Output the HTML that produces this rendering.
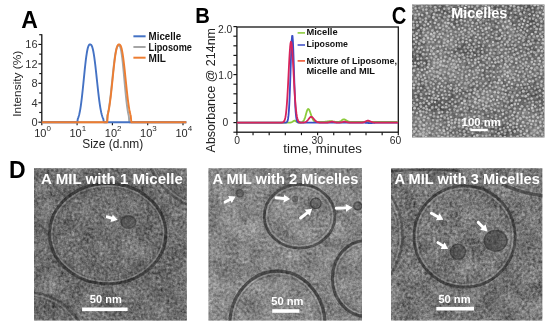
<!DOCTYPE html>
<html><head><meta charset="utf-8"><title>Figure</title>
<style>
html,body{margin:0;padding:0;background:#fff;}
body{width:550px;height:327px;overflow:hidden;}
svg{display:block;font-family:"Liberation Sans", Arial, sans-serif;}
</style></head><body>
<svg width="550" height="327" viewBox="0 0 550 327">
<defs>
<filter id="nz0" x="0" y="0" width="100%" height="100%" color-interpolation-filters="sRGB"><feTurbulence type="fractalNoise" baseFrequency="0.36" numOctaves="3" seed="3"/><feGaussianBlur stdDeviation="0.55"/><feColorMatrix type="matrix" values="0.62 0 0 0 0.125  0.62 0 0 0 0.125  0.62 0 0 0 0.125  0 0 0 0 1" result="f"/><feTurbulence type="fractalNoise" baseFrequency="0.05" numOctaves="2" seed="23"/><feColorMatrix type="matrix" values="0.35 0 0 0 0.325  0.35 0 0 0 0.325  0.35 0 0 0 0.325  0 0 0 0 1" result="c"/><feComposite in="f" in2="c" operator="arithmetic" k1="0" k2="1" k3="1" k4="-0.5"/></filter><filter id="nzo0" x="0" y="0" width="100%" height="100%" color-interpolation-filters="sRGB"><feTurbulence type="fractalNoise" baseFrequency="0.36" numOctaves="3" seed="53"/><feGaussianBlur stdDeviation="0.55"/><feColorMatrix type="matrix" values="0.62 0 0 0 0.125  0.62 0 0 0 0.125  0.62 0 0 0 0.125  0 0 0 0 1" result="f"/><feTurbulence type="fractalNoise" baseFrequency="0.05" numOctaves="2" seed="73"/><feColorMatrix type="matrix" values="0.35 0 0 0 0.325  0.35 0 0 0 0.325  0.35 0 0 0 0.325  0 0 0 0 1" result="c"/><feComposite in="f" in2="c" operator="arithmetic" k1="0" k2="1" k3="1" k4="-0.5"/></filter>
<filter id="nz1" x="0" y="0" width="100%" height="100%" color-interpolation-filters="sRGB"><feTurbulence type="fractalNoise" baseFrequency="0.36" numOctaves="3" seed="5"/><feGaussianBlur stdDeviation="0.55"/><feColorMatrix type="matrix" values="0.56 0 0 0 0.245  0.56 0 0 0 0.245  0.56 0 0 0 0.245  0 0 0 0 1" result="f"/><feTurbulence type="fractalNoise" baseFrequency="0.05" numOctaves="2" seed="25"/><feColorMatrix type="matrix" values="0.35 0 0 0 0.325  0.35 0 0 0 0.325  0.35 0 0 0 0.325  0 0 0 0 1" result="c"/><feComposite in="f" in2="c" operator="arithmetic" k1="0" k2="1" k3="1" k4="-0.5"/></filter><filter id="nzo1" x="0" y="0" width="100%" height="100%" color-interpolation-filters="sRGB"><feTurbulence type="fractalNoise" baseFrequency="0.36" numOctaves="3" seed="55"/><feGaussianBlur stdDeviation="0.55"/><feColorMatrix type="matrix" values="0.56 0 0 0 0.245  0.56 0 0 0 0.245  0.56 0 0 0 0.245  0 0 0 0 1" result="f"/><feTurbulence type="fractalNoise" baseFrequency="0.05" numOctaves="2" seed="75"/><feColorMatrix type="matrix" values="0.35 0 0 0 0.325  0.35 0 0 0 0.325  0.35 0 0 0 0.325  0 0 0 0 1" result="c"/><feComposite in="f" in2="c" operator="arithmetic" k1="0" k2="1" k3="1" k4="-0.5"/></filter>
<filter id="nz2" x="0" y="0" width="100%" height="100%" color-interpolation-filters="sRGB"><feTurbulence type="fractalNoise" baseFrequency="0.36" numOctaves="3" seed="9"/><feGaussianBlur stdDeviation="0.55"/><feColorMatrix type="matrix" values="0.66 0 0 0 0.135  0.66 0 0 0 0.135  0.66 0 0 0 0.135  0 0 0 0 1" result="f"/><feTurbulence type="fractalNoise" baseFrequency="0.05" numOctaves="2" seed="29"/><feColorMatrix type="matrix" values="0.35 0 0 0 0.325  0.35 0 0 0 0.325  0.35 0 0 0 0.325  0 0 0 0 1" result="c"/><feComposite in="f" in2="c" operator="arithmetic" k1="0" k2="1" k3="1" k4="-0.5"/></filter><filter id="nzo2" x="0" y="0" width="100%" height="100%" color-interpolation-filters="sRGB"><feTurbulence type="fractalNoise" baseFrequency="0.36" numOctaves="3" seed="59"/><feGaussianBlur stdDeviation="0.55"/><feColorMatrix type="matrix" values="0.66 0 0 0 0.135  0.66 0 0 0 0.135  0.66 0 0 0 0.135  0 0 0 0 1" result="f"/><feTurbulence type="fractalNoise" baseFrequency="0.05" numOctaves="2" seed="79"/><feColorMatrix type="matrix" values="0.35 0 0 0 0.325  0.35 0 0 0 0.325  0.35 0 0 0 0.325  0 0 0 0 1" result="c"/><feComposite in="f" in2="c" operator="arithmetic" k1="0" k2="1" k3="1" k4="-0.5"/></filter>
<filter id="nzC" x="0" y="0" width="100%" height="100%" color-interpolation-filters="sRGB"><feTurbulence type="fractalNoise" baseFrequency="0.35" numOctaves="2" seed="11"/><feColorMatrix type="matrix" values="0.35 0 0 0 0.26  0.35 0 0 0 0.26  0.35 0 0 0 0.26  0 0 0 0 1" result="f"/><feTurbulence type="fractalNoise" baseFrequency="0.035" numOctaves="2" seed="41"/><feColorMatrix type="matrix" values="0.3 0 0 0 0.35  0.3 0 0 0 0.35  0.3 0 0 0 0.35  0 0 0 0 1" result="c"/><feComposite in="f" in2="c" operator="arithmetic" k1="0" k2="1" k3="1" k4="-0.5"/></filter>
<filter id="bl" x="-5%" y="-5%" width="110%" height="110%"><feGaussianBlur stdDeviation="0.5"/></filter>
<filter id="bl2" x="-5%" y="-5%" width="110%" height="110%"><feGaussianBlur stdDeviation="0.75"/></filter>
</defs>
<rect width="550" height="327" fill="#fff"/>
<text x="21.2" y="28.1" font-size="23" font-weight="bold">A</text>
<line x1="41.8" y1="34.3" x2="41.8" y2="122.8" stroke="#151515" stroke-width="1.3"/>
<line x1="38.4" y1="122.20" x2="41.8" y2="122.20" stroke="#151515" stroke-width="1.15"/>
<text x="37.6" y="126.10" font-size="11" text-anchor="end" fill="#333">0</text>
<line x1="39.199999999999996" y1="112.48" x2="41.8" y2="112.48" stroke="#151515" stroke-width="1.15"/>
<line x1="38.4" y1="102.76" x2="41.8" y2="102.76" stroke="#151515" stroke-width="1.15"/>
<text x="37.6" y="106.66" font-size="11" text-anchor="end" fill="#333">4</text>
<line x1="39.199999999999996" y1="93.04" x2="41.8" y2="93.04" stroke="#151515" stroke-width="1.15"/>
<line x1="38.4" y1="83.32" x2="41.8" y2="83.32" stroke="#151515" stroke-width="1.15"/>
<text x="37.6" y="87.22" font-size="11" text-anchor="end" fill="#333">8</text>
<line x1="39.199999999999996" y1="73.60" x2="41.8" y2="73.60" stroke="#151515" stroke-width="1.15"/>
<line x1="38.4" y1="63.88" x2="41.8" y2="63.88" stroke="#151515" stroke-width="1.15"/>
<text x="37.6" y="67.78" font-size="11" text-anchor="end" fill="#333">12</text>
<line x1="39.199999999999996" y1="54.16" x2="41.8" y2="54.16" stroke="#151515" stroke-width="1.15"/>
<line x1="38.4" y1="44.44" x2="41.8" y2="44.44" stroke="#151515" stroke-width="1.15"/>
<text x="37.6" y="48.34" font-size="11" text-anchor="end" fill="#333">16</text>
<line x1="39.199999999999996" y1="34.72" x2="41.8" y2="34.72" stroke="#151515" stroke-width="1.15"/>
<line x1="41.80" y1="122.2" x2="41.80" y2="125.2" stroke="#151515" stroke-width="1.15"/>
<text x="34.20" y="137" font-size="11" fill="#2a2a2a">10<tspan dy="-6" font-size="8">0</tspan></text>
<line x1="77.10" y1="122.2" x2="77.10" y2="125.2" stroke="#151515" stroke-width="1.15"/>
<text x="69.50" y="137" font-size="11" fill="#2a2a2a">10<tspan dy="-6" font-size="8">1</tspan></text>
<line x1="112.40" y1="122.2" x2="112.40" y2="125.2" stroke="#151515" stroke-width="1.15"/>
<text x="104.80" y="137" font-size="11" fill="#2a2a2a">10<tspan dy="-6" font-size="8">2</tspan></text>
<line x1="147.70" y1="122.2" x2="147.70" y2="125.2" stroke="#151515" stroke-width="1.15"/>
<text x="140.10" y="137" font-size="11" fill="#2a2a2a">10<tspan dy="-6" font-size="8">3</tspan></text>
<line x1="183.00" y1="122.2" x2="183.00" y2="125.2" stroke="#151515" stroke-width="1.15"/>
<text x="175.40" y="137" font-size="11" fill="#2a2a2a">10<tspan dy="-6" font-size="8">4</tspan></text>
<text x="82.2" y="147.9" font-size="12.4" fill="#222" textLength="61" lengthAdjust="spacingAndGlyphs">Size (d.nm)</text>
<text transform="translate(21.0,116.7) rotate(-90)" font-size="11.8" fill="#222" textLength="66" lengthAdjust="spacingAndGlyphs">Intensity (%)</text>
<path d="M41.80,122.20 L42.30,122.20 L42.80,122.20 L43.30,122.20 L43.80,122.20 L44.30,122.20 L44.80,122.20 L45.30,122.20 L45.80,122.20 L46.30,122.20 L46.80,122.20 L47.30,122.20 L47.80,122.20 L48.30,122.20 L48.80,122.20 L49.30,122.20 L49.80,122.20 L50.30,122.20 L50.80,122.20 L51.30,122.20 L51.80,122.20 L52.30,122.20 L52.80,122.20 L53.30,122.20 L53.80,122.20 L54.30,122.20 L54.80,122.20 L55.30,122.20 L55.80,122.20 L56.30,122.20 L56.80,122.20 L57.30,122.20 L57.80,122.20 L58.30,122.20 L58.80,122.20 L59.30,122.20 L59.80,122.20 L60.30,122.20 L60.80,122.20 L61.30,122.20 L61.80,122.20 L62.30,122.20 L62.80,122.20 L63.30,122.20 L63.80,122.20 L64.30,122.20 L64.80,122.20 L65.30,122.20 L65.80,122.20 L66.30,122.20 L66.80,122.20 L67.30,122.20 L67.80,122.20 L68.30,122.20 L68.80,122.20 L69.30,122.20 L69.80,122.20 L70.30,122.20 L70.80,122.20 L71.30,122.20 L71.80,122.20 L72.30,122.20 L72.80,122.20 L73.30,122.20 L73.80,122.20 L74.30,122.20 L74.80,122.20 L75.30,122.20 L75.80,122.20 L76.30,122.20 L76.80,122.20 L77.30,122.20 L77.80,122.20 L78.30,122.20 L78.80,122.20 L79.30,122.20 L79.80,122.20 L80.30,122.20 L80.80,122.20 L81.30,122.20 L81.80,122.20 L82.30,122.20 L82.80,122.20 L83.30,122.20 L83.80,122.20 L84.30,122.20 L84.80,122.20 L85.30,122.20 L85.80,122.20 L86.30,122.20 L86.80,122.20 L87.30,122.20 L87.80,122.20 L88.30,122.20 L88.80,122.20 L89.30,122.20 L89.80,122.20 L90.30,122.20 L90.80,122.20 L91.30,122.20 L91.80,122.20 L92.30,122.20 L92.80,122.20 L93.30,122.20 L93.80,122.20 L94.30,122.20 L94.80,122.20 L95.30,122.20 L95.80,122.20 L96.30,122.20 L96.80,122.20 L97.30,122.20 L97.80,122.20 L98.30,122.20 L98.80,122.20 L99.30,122.20 L99.80,122.20 L100.30,122.20 L100.80,122.20 L101.30,122.20 L101.80,122.20 L102.30,122.20 L102.80,122.20 L103.30,122.20 L103.80,122.20 L104.30,122.20 L104.80,122.20 L105.30,122.20 L105.80,122.20 L106.30,122.20 L106.80,122.20 L107.30,115.82 L107.80,113.89 L108.30,111.57 L108.80,108.84 L109.30,105.67 L109.80,102.09 L110.30,98.12 L110.80,93.80 L111.30,89.20 L111.80,84.41 L112.30,79.53 L112.80,74.66 L113.30,69.91 L113.80,65.39 L114.30,61.21 L114.80,57.44 L115.30,54.15 L115.80,51.40 L116.30,49.20 L116.80,47.55 L117.30,46.42 L117.80,45.75 L118.30,45.46 L118.80,45.41 L119.30,45.58 L119.80,46.16 L120.30,47.31 L120.80,49.11 L121.30,51.62 L121.80,54.83 L122.30,58.71 L122.80,63.18 L123.30,68.14 L123.80,73.44 L124.30,78.94 L124.80,84.47 L125.30,89.88 L125.80,95.02 L126.30,99.78 L126.80,104.07 L127.30,107.85 L127.80,111.07 L128.30,113.76 L128.80,115.94 L129.30,122.20 L129.80,122.20 L130.30,122.20 L130.80,122.20 L131.30,122.20 L131.80,122.20 L132.30,122.20 L132.80,122.20 L133.30,122.20 L133.80,122.20 L134.30,122.20 L134.80,122.20 L135.30,122.20 L135.80,122.20 L136.30,122.20 L136.80,122.20 L137.30,122.20 L137.80,122.20 L138.30,122.20 L138.80,122.20 L139.30,122.20 L139.80,122.20 L140.30,122.20 L140.80,122.20 L141.30,122.20 L141.80,122.20 L142.30,122.20 L142.80,122.20 L143.30,122.20 L143.80,122.20 L144.30,122.20 L144.80,122.20 L145.30,122.20 L145.80,122.20 L146.30,122.20 L146.80,122.20 L147.30,122.20 L147.80,122.20 L148.30,122.20 L148.80,122.20 L149.30,122.20 L149.80,122.20 L150.30,122.20 L150.80,122.20 L151.30,122.20 L151.80,122.20 L152.30,122.20 L152.80,122.20 L153.30,122.20 L153.80,122.20 L154.30,122.20 L154.80,122.20 L155.30,122.20 L155.80,122.20 L156.30,122.20 L156.80,122.20 L157.30,122.20 L157.80,122.20 L158.30,122.20 L158.80,122.20 L159.30,122.20 L159.80,122.20 L160.30,122.20 L160.80,122.20 L161.30,122.20 L161.80,122.20 L162.30,122.20 L162.80,122.20 L163.30,122.20 L163.80,122.20 L164.30,122.20 L164.80,122.20 L165.30,122.20 L165.80,122.20 L166.30,122.20 L166.80,122.20 L167.30,122.20 L167.80,122.20 L168.30,122.20 L168.80,122.20 L169.30,122.20 L169.80,122.20 L170.30,122.20 L170.80,122.20 L171.30,122.20 L171.80,122.20 L172.30,122.20 L172.80,122.20 L173.30,122.20 L173.80,122.20 L174.30,122.20 L174.80,122.20 L175.30,122.20 L175.80,122.20 L176.30,122.20 L176.80,122.20 L177.30,122.20 L177.80,122.20 L178.30,122.20 L178.80,122.20 L179.30,122.20 L179.80,122.20 L180.30,122.20 L180.80,122.20 L181.30,122.20 L181.80,122.20 L182.30,122.20 L182.80,122.20 L183.30,122.20 L183.80,122.20 L184.30,122.20 L184.80,122.20 L185.30,122.20 L185.80,122.20 L186.30,122.20" fill="none" stroke="#A5A5A5" stroke-width="1.9" stroke-linejoin="round"/>
<path d="M41.80,122.20 L42.30,122.20 L42.80,122.20 L43.30,122.20 L43.80,122.20 L44.30,122.20 L44.80,122.20 L45.30,122.20 L45.80,122.20 L46.30,122.20 L46.80,122.20 L47.30,122.20 L47.80,122.20 L48.30,122.20 L48.80,122.20 L49.30,122.20 L49.80,122.20 L50.30,122.20 L50.80,122.20 L51.30,122.20 L51.80,122.20 L52.30,122.20 L52.80,122.20 L53.30,122.20 L53.80,122.20 L54.30,122.20 L54.80,122.20 L55.30,122.20 L55.80,122.20 L56.30,122.20 L56.80,122.20 L57.30,122.20 L57.80,122.20 L58.30,122.20 L58.80,122.20 L59.30,122.20 L59.80,122.20 L60.30,122.20 L60.80,122.20 L61.30,122.20 L61.80,122.20 L62.30,122.20 L62.80,122.20 L63.30,122.20 L63.80,122.20 L64.30,122.20 L64.80,122.20 L65.30,122.20 L65.80,122.20 L66.30,122.20 L66.80,122.20 L67.30,122.20 L67.80,122.20 L68.30,122.20 L68.80,122.20 L69.30,122.20 L69.80,122.20 L70.30,122.20 L70.80,122.20 L71.30,122.20 L71.80,122.20 L72.30,122.20 L72.80,122.20 L73.30,122.20 L73.80,122.20 L74.30,122.20 L74.80,122.20 L75.30,122.20 L75.80,122.20 L76.30,122.20 L76.80,122.20 L77.30,122.20 L77.80,118.83 L78.30,117.60 L78.80,116.06 L79.30,114.14 L79.80,111.82 L80.30,109.06 L80.80,105.86 L81.30,102.21 L81.80,98.15 L82.30,93.73 L82.80,89.01 L83.30,84.09 L83.80,79.06 L84.30,74.04 L84.80,69.15 L85.30,64.51 L85.80,60.21 L86.30,56.36 L86.80,53.02 L87.30,50.24 L87.80,48.04 L88.30,46.41 L88.80,45.32 L89.30,44.70 L89.80,44.46 L90.30,44.45 L90.80,44.60 L91.30,45.05 L91.80,45.90 L92.30,47.19 L92.80,48.98 L93.30,51.27 L93.80,54.07 L94.30,57.34 L94.80,61.05 L95.30,65.14 L95.80,69.52 L96.30,74.10 L96.80,78.80 L97.30,83.51 L97.80,88.15 L98.30,92.62 L98.80,96.84 L99.30,100.76 L99.80,104.33 L100.30,107.53 L100.80,110.33 L101.30,112.74 L101.80,114.78 L102.30,116.48 L102.80,117.86 L103.30,118.96 L103.80,122.20 L104.30,122.20 L104.80,122.20 L105.30,122.20 L105.80,122.20 L106.30,122.20 L106.80,122.20 L107.30,122.20 L107.80,122.20 L108.30,122.20 L108.80,122.20 L109.30,122.20 L109.80,122.20 L110.30,122.20 L110.80,122.20 L111.30,122.20 L111.80,122.20 L112.30,122.20 L112.80,122.20 L113.30,122.20 L113.80,122.20 L114.30,122.20 L114.80,122.20 L115.30,122.20 L115.80,122.20 L116.30,122.20 L116.80,122.20 L117.30,122.20 L117.80,122.20 L118.30,122.20 L118.80,122.20 L119.30,122.20 L119.80,122.20 L120.30,122.20 L120.80,122.20 L121.30,122.20 L121.80,122.20 L122.30,122.20 L122.80,122.20 L123.30,122.20 L123.80,122.20 L124.30,122.20 L124.80,122.20 L125.30,122.20 L125.80,122.20 L126.30,122.20 L126.80,122.20 L127.30,122.20 L127.80,122.20 L128.30,122.20 L128.80,122.20 L129.30,122.20 L129.80,122.20 L130.30,122.20 L130.80,122.20 L131.30,122.20 L131.80,122.20 L132.30,122.20 L132.80,122.20 L133.30,122.20 L133.80,122.20 L134.30,122.20 L134.80,122.20 L135.30,122.20 L135.80,122.20 L136.30,122.20 L136.80,122.20 L137.30,122.20 L137.80,122.20 L138.30,122.20 L138.80,122.20 L139.30,122.20 L139.80,122.20 L140.30,122.20 L140.80,122.20 L141.30,122.20 L141.80,122.20 L142.30,122.20 L142.80,122.20 L143.30,122.20 L143.80,122.20 L144.30,122.20 L144.80,122.20 L145.30,122.20 L145.80,122.20 L146.30,122.20 L146.80,122.20 L147.30,122.20 L147.80,122.20 L148.30,122.20 L148.80,122.20 L149.30,122.20 L149.80,122.20 L150.30,122.20 L150.80,122.20 L151.30,122.20 L151.80,122.20 L152.30,122.20 L152.80,122.20 L153.30,122.20 L153.80,122.20 L154.30,122.20 L154.80,122.20 L155.30,122.20 L155.80,122.20 L156.30,122.20 L156.80,122.20 L157.30,122.20 L157.80,122.20 L158.30,122.20 L158.80,122.20 L159.30,122.20 L159.80,122.20 L160.30,122.20 L160.80,122.20 L161.30,122.20 L161.80,122.20 L162.30,122.20 L162.80,122.20 L163.30,122.20 L163.80,122.20 L164.30,122.20 L164.80,122.20 L165.30,122.20 L165.80,122.20 L166.30,122.20 L166.80,122.20 L167.30,122.20 L167.80,122.20 L168.30,122.20 L168.80,122.20 L169.30,122.20 L169.80,122.20 L170.30,122.20 L170.80,122.20 L171.30,122.20 L171.80,122.20 L172.30,122.20 L172.80,122.20 L173.30,122.20 L173.80,122.20 L174.30,122.20 L174.80,122.20 L175.30,122.20 L175.80,122.20 L176.30,122.20 L176.80,122.20 L177.30,122.20 L177.80,122.20 L178.30,122.20 L178.80,122.20 L179.30,122.20 L179.80,122.20 L180.30,122.20 L180.80,122.20 L181.30,122.20 L181.80,122.20 L182.30,122.20 L182.80,122.20 L183.30,122.20 L183.80,122.20 L184.30,122.20 L184.80,122.20 L185.30,122.20 L185.80,122.20 L186.30,122.20" fill="none" stroke="#4472C4" stroke-width="1.9" stroke-linejoin="round"/>
<path d="M41.80,122.20 L42.30,122.20 L42.80,122.20 L43.30,122.20 L43.80,122.20 L44.30,122.20 L44.80,122.20 L45.30,122.20 L45.80,122.20 L46.30,122.20 L46.80,122.20 L47.30,122.20 L47.80,122.20 L48.30,122.20 L48.80,122.20 L49.30,122.20 L49.80,122.20 L50.30,122.20 L50.80,122.20 L51.30,122.20 L51.80,122.20 L52.30,122.20 L52.80,122.20 L53.30,122.20 L53.80,122.20 L54.30,122.20 L54.80,122.20 L55.30,122.20 L55.80,122.20 L56.30,122.20 L56.80,122.20 L57.30,122.20 L57.80,122.20 L58.30,122.20 L58.80,122.20 L59.30,122.20 L59.80,122.20 L60.30,122.20 L60.80,122.20 L61.30,122.20 L61.80,122.20 L62.30,122.20 L62.80,122.20 L63.30,122.20 L63.80,122.20 L64.30,122.20 L64.80,122.20 L65.30,122.20 L65.80,122.20 L66.30,122.20 L66.80,122.20 L67.30,122.20 L67.80,122.20 L68.30,122.20 L68.80,122.20 L69.30,122.20 L69.80,122.20 L70.30,122.20 L70.80,122.20 L71.30,122.20 L71.80,122.20 L72.30,122.20 L72.80,122.20 L73.30,122.20 L73.80,122.20 L74.30,122.20 L74.80,122.20 L75.30,122.20 L75.80,122.20 L76.30,122.20 L76.80,122.20 L77.30,122.20 L77.80,122.20 L78.30,122.20 L78.80,122.20 L79.30,122.20 L79.80,122.20 L80.30,122.20 L80.80,122.20 L81.30,122.20 L81.80,122.20 L82.30,122.20 L82.80,122.20 L83.30,122.20 L83.80,122.20 L84.30,122.20 L84.80,122.20 L85.30,122.20 L85.80,122.20 L86.30,122.20 L86.80,122.20 L87.30,122.20 L87.80,122.20 L88.30,122.20 L88.80,122.20 L89.30,122.20 L89.80,122.20 L90.30,122.20 L90.80,122.20 L91.30,122.20 L91.80,122.20 L92.30,122.20 L92.80,122.20 L93.30,122.20 L93.80,122.20 L94.30,122.20 L94.80,122.20 L95.30,122.20 L95.80,122.20 L96.30,122.20 L96.80,122.20 L97.30,122.20 L97.80,122.20 L98.30,122.20 L98.80,122.20 L99.30,122.20 L99.80,122.20 L100.30,122.20 L100.80,122.20 L101.30,122.20 L101.80,122.20 L102.30,122.20 L102.80,122.20 L103.30,122.20 L103.80,122.20 L104.30,122.20 L104.80,122.20 L105.30,122.20 L105.80,122.20 L106.30,122.20 L106.80,122.20 L107.30,122.20 L107.80,114.67 L108.30,112.54 L108.80,110.00 L109.30,107.05 L109.80,103.68 L110.30,99.92 L110.80,95.79 L111.30,91.35 L111.80,86.67 L112.30,81.85 L112.80,76.98 L113.30,72.16 L113.80,67.50 L114.30,63.11 L114.80,59.08 L115.30,55.48 L115.80,52.37 L116.30,49.80 L116.80,47.76 L117.30,46.26 L117.80,45.25 L118.30,44.68 L118.80,44.46 L119.30,44.45 L119.80,44.61 L120.30,45.10 L120.80,46.02 L121.30,47.42 L121.80,49.35 L122.30,51.82 L122.80,54.82 L123.30,58.32 L123.80,62.28 L124.30,66.60 L124.80,71.21 L125.30,76.00 L125.80,80.88 L126.30,85.72 L126.80,90.43 L127.30,94.92 L127.80,99.12 L128.30,102.96 L128.80,106.41 L129.30,109.45 L129.80,112.06 L130.30,114.28 L130.80,116.11 L131.30,122.20 L131.80,122.20 L132.30,122.20 L132.80,122.20 L133.30,122.20 L133.80,122.20 L134.30,122.20 L134.80,122.20 L135.30,122.20 L135.80,122.20 L136.30,122.20 L136.80,122.20 L137.30,122.20 L137.80,122.20 L138.30,122.20 L138.80,122.20 L139.30,122.20 L139.80,122.20 L140.30,122.20 L140.80,122.20 L141.30,122.20 L141.80,122.20 L142.30,122.20 L142.80,122.20 L143.30,122.20 L143.80,122.20 L144.30,122.20 L144.80,122.20 L145.30,122.20 L145.80,122.20 L146.30,122.20 L146.80,122.20 L147.30,122.20 L147.80,122.20 L148.30,122.20 L148.80,122.20 L149.30,122.20 L149.80,122.20 L150.30,122.20 L150.80,122.20 L151.30,122.20 L151.80,122.20 L152.30,122.20 L152.80,122.20 L153.30,122.20 L153.80,122.20 L154.30,122.20 L154.80,122.20 L155.30,122.20 L155.80,122.20 L156.30,122.20 L156.80,122.20 L157.30,122.20 L157.80,122.20 L158.30,122.20 L158.80,122.20 L159.30,122.20 L159.80,122.20 L160.30,122.20 L160.80,122.20 L161.30,122.20 L161.80,122.20 L162.30,122.20 L162.80,122.20 L163.30,122.20 L163.80,122.20 L164.30,122.20 L164.80,122.20 L165.30,122.20 L165.80,122.20 L166.30,122.20 L166.80,122.20 L167.30,122.20 L167.80,122.20 L168.30,122.20 L168.80,122.20 L169.30,122.20 L169.80,122.20 L170.30,122.20 L170.80,122.20 L171.30,122.20 L171.80,122.20 L172.30,122.20 L172.80,122.20 L173.30,122.20 L173.80,122.20 L174.30,122.20 L174.80,122.20 L175.30,122.20 L175.80,122.20 L176.30,122.20 L176.80,122.20 L177.30,122.20 L177.80,122.20 L178.30,122.20 L178.80,122.20 L179.30,122.20 L179.80,122.20 L180.30,122.20 L180.80,122.20 L181.30,122.20 L181.80,122.20 L182.30,122.20 L182.80,122.20 L183.30,122.20 L183.80,122.20 L184.30,122.20 L184.80,122.20 L185.30,122.20 L185.80,122.20 L186.30,122.20" fill="none" stroke="#ED7D31" stroke-width="1.9" stroke-linejoin="round"/>
<line x1="133.4" y1="36.30" x2="145.6" y2="36.30" stroke="#4472C4" stroke-width="2"/>
<text x="148.6" y="40.25" font-size="10.6" font-weight="bold" fill="#111" textLength="32.5" lengthAdjust="spacingAndGlyphs">Micelle</text>
<line x1="133.4" y1="47.00" x2="145.6" y2="47.00" stroke="#A5A5A5" stroke-width="2"/>
<text x="148.6" y="50.95" font-size="10.6" font-weight="bold" fill="#111" textLength="43.3" lengthAdjust="spacingAndGlyphs">Liposome</text>
<line x1="133.4" y1="57.70" x2="145.6" y2="57.70" stroke="#ED7D31" stroke-width="2"/>
<text x="148.6" y="61.65" font-size="10.6" font-weight="bold" fill="#111" textLength="17.3" lengthAdjust="spacingAndGlyphs">MIL</text>
<text x="195.3" y="23" font-size="22" font-weight="bold" textLength="14.6" lengthAdjust="spacingAndGlyphs">B</text>
<rect x="236.9" y="27.0" width="161.40" height="105.20" fill="none" stroke="#151515" stroke-width="1.3"/>
<line x1="233.4" y1="132.20" x2="236.9" y2="132.20" stroke="#151515" stroke-width="1.15"/>
<line x1="233.4" y1="122.60" x2="236.9" y2="122.60" stroke="#151515" stroke-width="1.15"/>
<line x1="233.4" y1="113.00" x2="236.9" y2="113.00" stroke="#151515" stroke-width="1.15"/>
<line x1="233.4" y1="103.40" x2="236.9" y2="103.40" stroke="#151515" stroke-width="1.15"/>
<line x1="233.4" y1="93.80" x2="236.9" y2="93.80" stroke="#151515" stroke-width="1.15"/>
<line x1="233.4" y1="84.20" x2="236.9" y2="84.20" stroke="#151515" stroke-width="1.15"/>
<line x1="233.4" y1="74.60" x2="236.9" y2="74.60" stroke="#151515" stroke-width="1.15"/>
<line x1="233.4" y1="65.00" x2="236.9" y2="65.00" stroke="#151515" stroke-width="1.15"/>
<line x1="233.4" y1="55.40" x2="236.9" y2="55.40" stroke="#151515" stroke-width="1.15"/>
<line x1="233.4" y1="45.80" x2="236.9" y2="45.80" stroke="#151515" stroke-width="1.15"/>
<line x1="233.4" y1="36.20" x2="236.9" y2="36.20" stroke="#151515" stroke-width="1.15"/>
<line x1="233.4" y1="26.60" x2="236.9" y2="26.60" stroke="#151515" stroke-width="1.15"/>
<text x="218.0" y="32.9" font-size="10.3" fill="#2a2a2a">2.0</text>
<text x="218.3" y="78.6" font-size="10.3" fill="#2a2a2a">1.0</text>
<text x="222.6" y="126.0" font-size="10.3" fill="#2a2a2a">0</text>
<line x1="236.90" y1="132.2" x2="236.90" y2="135.2" stroke="#151515" stroke-width="1.15"/>
<line x1="253.04" y1="132.2" x2="253.04" y2="135.2" stroke="#151515" stroke-width="1.15"/>
<line x1="269.18" y1="132.2" x2="269.18" y2="135.2" stroke="#151515" stroke-width="1.15"/>
<line x1="285.32" y1="132.2" x2="285.32" y2="135.2" stroke="#151515" stroke-width="1.15"/>
<line x1="301.46" y1="132.2" x2="301.46" y2="135.2" stroke="#151515" stroke-width="1.15"/>
<line x1="317.60" y1="132.2" x2="317.60" y2="135.2" stroke="#151515" stroke-width="1.15"/>
<line x1="333.74" y1="132.2" x2="333.74" y2="135.2" stroke="#151515" stroke-width="1.15"/>
<line x1="349.88" y1="132.2" x2="349.88" y2="135.2" stroke="#151515" stroke-width="1.15"/>
<line x1="366.02" y1="132.2" x2="366.02" y2="135.2" stroke="#151515" stroke-width="1.15"/>
<line x1="382.16" y1="132.2" x2="382.16" y2="135.2" stroke="#151515" stroke-width="1.15"/>
<line x1="398.30" y1="132.2" x2="398.30" y2="135.2" stroke="#151515" stroke-width="1.15"/>
<text x="234.3" y="144.4" font-size="10.3" fill="#2a2a2a">0</text>
<text x="311.5" y="144.4" font-size="10.3" fill="#2a2a2a">30</text>
<text x="389.8" y="144.4" font-size="10.3" fill="#2a2a2a">60</text>
<text x="283.3" y="152.5" font-size="12.2" fill="#222" textLength="78.7" lengthAdjust="spacingAndGlyphs">time, minutes</text>
<text transform="translate(215.2,152.4) rotate(-90)" font-size="13.2" fill="#222" textLength="124.4" lengthAdjust="spacingAndGlyphs">Absorbance @ 214nm</text>
<path d="M236.90,122.60 L237.30,122.60 L237.70,122.60 L238.10,122.60 L238.50,122.60 L238.90,122.60 L239.30,122.60 L239.70,122.60 L240.10,122.60 L240.50,122.60 L240.90,122.60 L241.30,122.60 L241.70,122.60 L242.10,122.60 L242.50,122.60 L242.90,122.60 L243.30,122.60 L243.70,122.60 L244.10,122.60 L244.50,122.60 L244.90,122.60 L245.30,122.60 L245.70,122.60 L246.10,122.60 L246.50,122.60 L246.90,122.60 L247.30,122.60 L247.70,122.60 L248.10,122.60 L248.50,122.60 L248.90,122.60 L249.30,122.60 L249.70,122.60 L250.10,122.60 L250.50,122.60 L250.90,122.60 L251.30,122.60 L251.70,122.60 L252.10,122.60 L252.50,122.60 L252.90,122.60 L253.30,122.60 L253.70,122.60 L254.10,122.60 L254.50,122.60 L254.90,122.60 L255.30,122.60 L255.70,122.60 L256.10,122.60 L256.50,122.60 L256.90,122.60 L257.30,122.60 L257.70,122.60 L258.10,122.60 L258.50,122.60 L258.90,122.60 L259.30,122.60 L259.70,122.60 L260.10,122.60 L260.50,122.60 L260.90,122.60 L261.30,122.60 L261.70,122.60 L262.10,122.60 L262.50,122.60 L262.90,122.60 L263.30,122.60 L263.70,122.60 L264.10,122.60 L264.50,122.60 L264.90,122.60 L265.30,122.60 L265.70,122.60 L266.10,122.60 L266.50,122.60 L266.90,122.60 L267.30,122.60 L267.70,122.60 L268.10,122.60 L268.50,122.60 L268.90,122.60 L269.30,122.60 L269.70,122.60 L270.10,122.60 L270.50,122.60 L270.90,122.60 L271.30,122.60 L271.70,122.60 L272.10,122.60 L272.50,122.60 L272.90,122.60 L273.30,122.60 L273.70,122.60 L274.10,122.60 L274.50,122.60 L274.90,122.60 L275.30,122.60 L275.70,122.60 L276.10,122.60 L276.50,122.60 L276.90,122.60 L277.30,122.60 L277.70,122.60 L278.10,122.60 L278.50,122.60 L278.90,122.60 L279.30,122.60 L279.70,122.60 L280.10,122.60 L280.50,122.60 L280.90,122.60 L281.30,122.60 L281.70,122.60 L282.10,122.60 L282.50,122.60 L282.90,122.60 L283.30,122.60 L283.70,122.60 L284.10,122.60 L284.50,122.60 L284.90,122.60 L285.30,122.60 L285.70,122.60 L286.10,122.60 L286.50,122.60 L286.90,122.60 L287.30,122.60 L287.70,122.60 L288.10,122.60 L288.50,122.60 L288.90,122.60 L289.30,122.59 L289.70,122.58 L290.10,122.56 L290.50,122.52 L290.90,122.45 L291.30,122.34 L291.70,122.18 L292.10,121.98 L292.50,121.72 L292.90,121.43 L293.30,121.15 L293.70,120.90 L294.10,120.74 L294.50,120.68 L294.90,120.74 L295.30,120.90 L295.70,121.15 L296.10,121.43 L296.50,121.71 L296.90,121.97 L297.30,122.17 L297.70,122.32 L298.10,122.42 L298.50,122.48 L298.90,122.51 L299.30,122.52 L299.70,122.52 L300.10,122.50 L300.50,122.46 L300.90,122.41 L301.30,122.34 L301.70,122.24 L302.10,122.08 L302.50,121.87 L302.90,121.56 L303.30,121.15 L303.70,120.59 L304.10,119.86 L304.50,118.96 L304.90,117.87 L305.30,116.61 L305.70,115.23 L306.10,113.79 L306.50,112.37 L306.90,111.09 L307.30,110.04 L307.70,109.33 L308.10,109.00 L308.50,109.07 L308.90,109.44 L309.30,110.09 L309.70,110.96 L310.10,112.01 L310.50,113.17 L310.90,114.37 L311.30,115.56 L311.70,116.69 L312.10,117.72 L312.50,118.63 L312.90,119.40 L313.30,120.04 L313.70,120.55 L314.10,120.94 L314.50,121.24 L314.90,121.46 L315.30,121.62 L315.70,121.73 L316.10,121.80 L316.50,121.85 L316.90,121.88 L317.30,121.90 L317.70,121.91 L318.10,121.92 L318.50,121.92 L318.90,121.92 L319.30,121.93 L319.70,121.93 L320.10,121.92 L320.50,121.92 L320.90,121.92 L321.30,121.92 L321.70,121.91 L322.10,121.91 L322.50,121.90 L322.90,121.88 L323.30,121.87 L323.70,121.85 L324.10,121.82 L324.50,121.79 L324.90,121.76 L325.30,121.72 L325.70,121.67 L326.10,121.62 L326.50,121.56 L326.90,121.51 L327.30,121.45 L327.70,121.39 L328.10,121.34 L328.50,121.29 L328.90,121.25 L329.30,121.23 L329.70,121.21 L330.10,121.21 L330.50,121.22 L330.90,121.24 L331.30,121.27 L331.70,121.31 L332.10,121.36 L332.50,121.42 L332.90,121.48 L333.30,121.53 L333.70,121.59 L334.10,121.65 L334.50,121.69 L334.90,121.74 L335.30,121.78 L335.70,121.81 L336.10,121.84 L336.50,121.86 L336.90,121.87 L337.30,121.88 L337.70,121.88 L338.10,121.86 L338.50,121.84 L338.90,121.79 L339.30,121.71 L339.70,121.60 L340.10,121.45 L340.50,121.25 L340.90,121.00 L341.30,120.72 L341.70,120.41 L342.10,120.09 L342.50,119.79 L342.90,119.54 L343.30,119.37 L343.70,119.29 L344.10,119.31 L344.50,119.39 L344.90,119.53 L345.30,119.72 L345.70,119.95 L346.10,120.20 L346.50,120.45 L346.90,120.70 L347.30,120.94 L347.70,121.15 L348.10,121.33 L348.50,121.48 L348.90,121.60 L349.30,121.69 L349.70,121.77 L350.10,121.82 L350.50,121.86 L350.90,121.88 L351.30,121.90 L351.70,121.91 L352.10,121.92 L352.50,121.92 L352.90,121.92 L353.30,121.93 L353.70,121.93 L354.10,121.93 L354.50,121.93 L354.90,121.93 L355.30,121.93 L355.70,121.93 L356.10,121.93 L356.50,121.93 L356.90,121.93 L357.30,121.93 L357.70,121.93 L358.10,121.93 L358.50,121.93 L358.90,121.93 L359.30,121.93 L359.70,121.93 L360.10,121.93 L360.50,121.93 L360.90,121.93 L361.30,121.93 L361.70,121.93 L362.10,121.93 L362.50,121.93 L362.90,121.93 L363.30,121.93 L363.70,121.93 L364.10,121.93 L364.50,121.93 L364.90,121.93 L365.30,121.93 L365.70,121.93 L366.10,121.93 L366.50,121.93 L366.90,121.93 L367.30,121.93 L367.70,121.93 L368.10,121.93 L368.50,121.93 L368.90,121.93 L369.30,121.93 L369.70,121.93 L370.10,121.93 L370.50,121.93 L370.90,121.93 L371.30,121.93 L371.70,121.93 L372.10,121.93 L372.50,121.93 L372.90,121.93 L373.30,121.93 L373.70,121.93 L374.10,121.93 L374.50,121.93 L374.90,121.93 L375.30,121.93 L375.70,121.93 L376.10,121.93 L376.50,121.93 L376.90,121.93 L377.30,121.93 L377.70,121.93 L378.10,121.93 L378.50,121.93 L378.90,121.93 L379.30,121.93 L379.70,121.93 L380.10,121.93 L380.50,121.93 L380.90,121.93 L381.30,121.93 L381.70,121.93 L382.10,121.93 L382.50,121.93 L382.90,121.93 L383.30,121.93 L383.70,121.93 L384.10,121.93 L384.50,121.93 L384.90,121.93 L385.30,121.93 L385.70,121.93 L386.10,121.93 L386.50,121.93 L386.90,121.93 L387.30,121.93 L387.70,121.93 L388.10,121.93 L388.50,121.93 L388.90,121.93 L389.30,121.93 L389.70,121.93 L390.10,121.93 L390.50,121.93 L390.90,121.93 L391.30,121.93 L391.70,121.93 L392.10,121.93 L392.50,121.93 L392.90,121.93 L393.30,121.93 L393.70,121.93 L394.10,121.93 L394.50,121.93 L394.90,121.93 L395.30,121.93 L395.70,121.93 L396.10,121.93 L396.50,121.93 L396.90,121.93 L397.30,121.93 L397.70,121.93 L398.10,121.93" fill="none" stroke="#8CCB3C" stroke-width="1.8" stroke-linejoin="round"/>
<path d="M236.90,122.60 L237.30,122.60 L237.70,122.60 L238.10,122.60 L238.50,122.60 L238.90,122.60 L239.30,122.60 L239.70,122.60 L240.10,122.60 L240.50,122.60 L240.90,122.60 L241.30,122.60 L241.70,122.60 L242.10,122.60 L242.50,122.60 L242.90,122.60 L243.30,122.60 L243.70,122.60 L244.10,122.60 L244.50,122.60 L244.90,122.60 L245.30,122.60 L245.70,122.60 L246.10,122.60 L246.50,122.60 L246.90,122.60 L247.30,122.60 L247.70,122.60 L248.10,122.60 L248.50,122.60 L248.90,122.60 L249.30,122.60 L249.70,122.60 L250.10,122.60 L250.50,122.60 L250.90,122.60 L251.30,122.60 L251.70,122.60 L252.10,122.60 L252.50,122.60 L252.90,122.60 L253.30,122.60 L253.70,122.60 L254.10,122.60 L254.50,122.60 L254.90,122.60 L255.30,122.60 L255.70,122.60 L256.10,122.60 L256.50,122.60 L256.90,122.60 L257.30,122.60 L257.70,122.60 L258.10,122.60 L258.50,122.60 L258.90,122.60 L259.30,122.60 L259.70,122.60 L260.10,122.60 L260.50,122.60 L260.90,122.60 L261.30,122.60 L261.70,122.60 L262.10,122.60 L262.50,122.60 L262.90,122.60 L263.30,122.60 L263.70,122.60 L264.10,122.60 L264.50,122.60 L264.90,122.60 L265.30,122.60 L265.70,122.60 L266.10,122.60 L266.50,122.60 L266.90,122.60 L267.30,122.60 L267.70,122.60 L268.10,122.60 L268.50,122.60 L268.90,122.60 L269.30,122.60 L269.70,122.60 L270.10,122.60 L270.50,122.60 L270.90,122.60 L271.30,122.60 L271.70,122.60 L272.10,122.60 L272.50,122.60 L272.90,122.60 L273.30,122.60 L273.70,122.60 L274.10,122.60 L274.50,122.60 L274.90,122.60 L275.30,122.60 L275.70,122.60 L276.10,122.60 L276.50,122.60 L276.90,122.60 L277.30,122.60 L277.70,122.60 L278.10,122.60 L278.50,122.60 L278.90,122.60 L279.30,122.60 L279.70,122.60 L280.10,122.60 L280.50,122.60 L280.90,122.60 L281.30,122.60 L281.70,122.60 L282.10,122.60 L282.50,122.60 L282.90,122.60 L283.30,122.60 L283.70,122.60 L284.10,122.60 L284.50,122.60 L284.90,122.59 L285.30,122.58 L285.70,122.55 L286.10,122.49 L286.50,122.34 L286.90,122.04 L287.30,121.44 L287.70,120.35 L288.10,118.47 L288.50,115.42 L288.90,110.78 L289.30,104.19 L289.70,95.47 L290.10,84.79 L290.50,72.73 L290.90,60.36 L291.30,49.12 L291.70,40.52 L292.10,35.84 L292.50,35.88 L292.90,40.83 L293.30,49.90 L293.70,61.65 L294.10,74.42 L294.50,86.69 L294.90,97.36 L295.30,105.87 L295.70,112.15 L296.10,116.44 L296.50,119.18 L296.90,120.81 L297.30,121.71 L297.70,122.19 L298.10,122.42 L298.50,122.52 L298.90,122.57 L299.30,122.59 L299.70,122.60 L300.10,122.60 L300.50,122.60 L300.90,122.60 L301.30,122.60 L301.70,122.60 L302.10,122.60 L302.50,122.60 L302.90,122.60 L303.30,122.60 L303.70,122.60 L304.10,122.60 L304.50,122.60 L304.90,122.60 L305.30,122.60 L305.70,122.60 L306.10,122.60 L306.50,122.60 L306.90,122.60 L307.30,122.60 L307.70,122.60 L308.10,122.60 L308.50,122.60 L308.90,122.60 L309.30,122.60 L309.70,122.60 L310.10,122.60 L310.50,122.60 L310.90,122.60 L311.30,122.60 L311.70,122.60 L312.10,122.60 L312.50,122.60 L312.90,122.60 L313.30,122.60 L313.70,122.60 L314.10,122.60 L314.50,122.60 L314.90,122.60 L315.30,122.60 L315.70,122.60 L316.10,122.60 L316.50,122.60 L316.90,122.60 L317.30,122.60 L317.70,122.60 L318.10,122.60 L318.50,122.60 L318.90,122.60 L319.30,122.60 L319.70,122.60 L320.10,122.60 L320.50,122.60 L320.90,122.60 L321.30,122.60 L321.70,122.60 L322.10,122.60 L322.50,122.60 L322.90,122.60 L323.30,122.60 L323.70,122.60 L324.10,122.60 L324.50,122.60 L324.90,122.60 L325.30,122.60 L325.70,122.60 L326.10,122.60 L326.50,122.60 L326.90,122.60 L327.30,122.60 L327.70,122.60 L328.10,122.60 L328.50,122.60 L328.90,122.60 L329.30,122.60 L329.70,122.60 L330.10,122.60 L330.50,122.60 L330.90,122.60 L331.30,122.60 L331.70,122.60 L332.10,122.60 L332.50,122.60 L332.90,122.60 L333.30,122.60 L333.70,122.60 L334.10,122.60 L334.50,122.60 L334.90,122.60 L335.30,122.60 L335.70,122.60 L336.10,122.60 L336.50,122.60 L336.90,122.60 L337.30,122.60 L337.70,122.60 L338.10,122.60 L338.50,122.60 L338.90,122.60 L339.30,122.60 L339.70,122.60 L340.10,122.60 L340.50,122.60 L340.90,122.60 L341.30,122.60 L341.70,122.60 L342.10,122.60 L342.50,122.60 L342.90,122.60 L343.30,122.60 L343.70,122.60 L344.10,122.60 L344.50,122.60 L344.90,122.60 L345.30,122.60 L345.70,122.60 L346.10,122.60 L346.50,122.60 L346.90,122.60 L347.30,122.60 L347.70,122.60 L348.10,122.60 L348.50,122.60 L348.90,122.60 L349.30,122.60 L349.70,122.60 L350.10,122.60 L350.50,122.60 L350.90,122.60 L351.30,122.60 L351.70,122.60 L352.10,122.60 L352.50,122.60 L352.90,122.60 L353.30,122.60 L353.70,122.60 L354.10,122.60 L354.50,122.60 L354.90,122.60 L355.30,122.60 L355.70,122.60 L356.10,122.60 L356.50,122.60 L356.90,122.60 L357.30,122.60 L357.70,122.60 L358.10,122.60 L358.50,122.60 L358.90,122.60 L359.30,122.60 L359.70,122.60 L360.10,122.60 L360.50,122.60 L360.90,122.60 L361.30,122.61 L361.70,122.61 L362.10,122.61 L362.50,122.62 L362.90,122.63 L363.30,122.64 L363.70,122.65 L364.10,122.67 L364.50,122.69 L364.90,122.71 L365.30,122.74 L365.70,122.77 L366.10,122.81 L366.50,122.84 L366.90,122.88 L367.30,122.92 L367.70,122.96 L368.10,122.99 L368.50,123.02 L368.90,123.05 L369.30,123.07 L369.70,123.08 L370.10,123.08 L370.50,123.07 L370.90,123.06 L371.30,123.04 L371.70,123.01 L372.10,122.98 L372.50,122.94 L372.90,122.90 L373.30,122.86 L373.70,122.82 L374.10,122.79 L374.50,122.76 L374.90,122.73 L375.30,122.70 L375.70,122.68 L376.10,122.66 L376.50,122.65 L376.90,122.63 L377.30,122.62 L377.70,122.62 L378.10,122.61 L378.50,122.61 L378.90,122.61 L379.30,122.60 L379.70,122.60 L380.10,122.60 L380.50,122.60 L380.90,122.60 L381.30,122.60 L381.70,122.60 L382.10,122.60 L382.50,122.60 L382.90,122.60 L383.30,122.60 L383.70,122.60 L384.10,122.60 L384.50,122.60 L384.90,122.60 L385.30,122.60 L385.70,122.60 L386.10,122.60 L386.50,122.60 L386.90,122.60 L387.30,122.60 L387.70,122.60 L388.10,122.60 L388.50,122.60 L388.90,122.60 L389.30,122.60 L389.70,122.60 L390.10,122.60 L390.50,122.60 L390.90,122.60 L391.30,122.60 L391.70,122.60 L392.10,122.60 L392.50,122.60 L392.90,122.60 L393.30,122.60 L393.70,122.60 L394.10,122.60 L394.50,122.60 L394.90,122.60 L395.30,122.60 L395.70,122.60 L396.10,122.60 L396.50,122.60 L396.90,122.60 L397.30,122.60 L397.70,122.60 L398.10,122.60" fill="none" stroke="#3A4CC4" stroke-width="1.8" stroke-linejoin="round"/>
<path d="M236.90,122.60 L237.30,122.60 L237.70,122.60 L238.10,122.60 L238.50,122.60 L238.90,122.60 L239.30,122.60 L239.70,122.60 L240.10,122.60 L240.50,122.60 L240.90,122.60 L241.30,122.60 L241.70,122.60 L242.10,122.60 L242.50,122.60 L242.90,122.60 L243.30,122.60 L243.70,122.60 L244.10,122.60 L244.50,122.60 L244.90,122.60 L245.30,122.60 L245.70,122.60 L246.10,122.60 L246.50,122.60 L246.90,122.60 L247.30,122.60 L247.70,122.60 L248.10,122.60 L248.50,122.60 L248.90,122.60 L249.30,122.60 L249.70,122.60 L250.10,122.60 L250.50,122.60 L250.90,122.60 L251.30,122.60 L251.70,122.60 L252.10,122.60 L252.50,122.60 L252.90,122.60 L253.30,122.60 L253.70,122.60 L254.10,122.60 L254.50,122.60 L254.90,122.60 L255.30,122.60 L255.70,122.60 L256.10,122.60 L256.50,122.60 L256.90,122.60 L257.30,122.60 L257.70,122.60 L258.10,122.60 L258.50,122.60 L258.90,122.60 L259.30,122.60 L259.70,122.60 L260.10,122.60 L260.50,122.60 L260.90,122.60 L261.30,122.60 L261.70,122.60 L262.10,122.60 L262.50,122.60 L262.90,122.60 L263.30,122.60 L263.70,122.60 L264.10,122.60 L264.50,122.60 L264.90,122.60 L265.30,122.60 L265.70,122.60 L266.10,122.60 L266.50,122.60 L266.90,122.60 L267.30,122.60 L267.70,122.60 L268.10,122.60 L268.50,122.60 L268.90,122.60 L269.30,122.60 L269.70,122.60 L270.10,122.60 L270.50,122.60 L270.90,122.60 L271.30,122.60 L271.70,122.60 L272.10,122.60 L272.50,122.60 L272.90,122.60 L273.30,122.60 L273.70,122.60 L274.10,122.60 L274.50,122.60 L274.90,122.60 L275.30,122.60 L275.70,122.60 L276.10,122.60 L276.50,122.60 L276.90,122.60 L277.30,122.60 L277.70,122.60 L278.10,122.60 L278.50,122.60 L278.90,122.60 L279.30,122.60 L279.70,122.60 L280.10,122.60 L280.50,122.59 L280.90,122.59 L281.30,122.58 L281.70,122.56 L282.10,122.52 L282.50,122.45 L282.90,122.33 L283.30,122.13 L283.70,121.81 L284.10,121.30 L284.50,120.53 L284.90,119.40 L285.30,117.78 L285.70,115.54 L286.10,112.54 L286.50,108.65 L286.90,103.80 L287.30,97.95 L287.70,91.17 L288.10,83.62 L288.50,75.59 L288.90,67.44 L289.30,59.67 L289.70,52.76 L290.10,47.21 L290.50,43.46 L290.90,41.79 L291.30,42.26 L291.70,44.60 L292.10,48.64 L292.50,54.12 L292.90,60.67 L293.30,67.91 L293.70,75.43 L294.10,82.87 L294.50,89.92 L294.90,96.34 L295.30,102.00 L295.70,106.81 L296.10,110.79 L296.50,113.97 L296.90,116.44 L297.30,118.31 L297.70,119.68 L298.10,120.66 L298.50,121.34 L298.90,121.80 L299.30,122.10 L299.70,122.30 L300.10,122.42 L300.50,122.50 L300.90,122.54 L301.30,122.56 L301.70,122.58 L302.10,122.58 L302.50,122.57 L302.90,122.56 L303.30,122.54 L303.70,122.51 L304.10,122.46 L304.50,122.39 L304.90,122.29 L305.30,122.16 L305.70,121.99 L306.10,121.76 L306.50,121.48 L306.90,121.13 L307.30,120.73 L307.70,120.27 L308.10,119.77 L308.50,119.24 L308.90,118.71 L309.30,118.19 L309.70,117.72 L310.10,117.33 L310.50,117.05 L310.90,116.88 L311.30,116.84 L311.70,116.93 L312.10,117.13 L312.50,117.43 L312.90,117.81 L313.30,118.25 L313.70,118.73 L314.10,119.23 L314.50,119.72 L314.90,120.19 L315.30,120.63 L315.70,121.02 L316.10,121.35 L316.50,121.64 L316.90,121.87 L317.30,122.06 L317.70,122.21 L318.10,122.32 L318.50,122.41 L318.90,122.47 L319.30,122.51 L319.70,122.54 L320.10,122.56 L320.50,122.58 L320.90,122.59 L321.30,122.59 L321.70,122.59 L322.10,122.60 L322.50,122.60 L322.90,122.60 L323.30,122.60 L323.70,122.60 L324.10,122.60 L324.50,122.60 L324.90,122.60 L325.30,122.60 L325.70,122.59 L326.10,122.59 L326.50,122.58 L326.90,122.56 L327.30,122.54 L327.70,122.50 L328.10,122.46 L328.50,122.39 L328.90,122.31 L329.30,122.21 L329.70,122.10 L330.10,121.99 L330.50,121.88 L330.90,121.77 L331.30,121.70 L331.70,121.65 L332.10,121.64 L332.50,121.67 L332.90,121.73 L333.30,121.82 L333.70,121.93 L334.10,122.05 L334.50,122.16 L334.90,122.26 L335.30,122.35 L335.70,122.43 L336.10,122.48 L336.50,122.52 L336.90,122.55 L337.30,122.57 L337.70,122.58 L338.10,122.59 L338.50,122.58 L338.90,122.58 L339.30,122.57 L339.70,122.55 L340.10,122.51 L340.50,122.47 L340.90,122.41 L341.30,122.33 L341.70,122.24 L342.10,122.13 L342.50,122.02 L342.90,121.90 L343.30,121.80 L343.70,121.71 L344.10,121.66 L344.50,121.64 L344.90,121.66 L345.30,121.71 L345.70,121.80 L346.10,121.90 L346.50,122.02 L346.90,122.13 L347.30,122.24 L347.70,122.33 L348.10,122.41 L348.50,122.47 L348.90,122.51 L349.30,122.55 L349.70,122.57 L350.10,122.58 L350.50,122.59 L350.90,122.59 L351.30,122.60 L351.70,122.60 L352.10,122.60 L352.50,122.60 L352.90,122.60 L353.30,122.60 L353.70,122.60 L354.10,122.60 L354.50,122.60 L354.90,122.60 L355.30,122.60 L355.70,122.60 L356.10,122.60 L356.50,122.60 L356.90,122.60 L357.30,122.60 L357.70,122.60 L358.10,122.60 L358.50,122.60 L358.90,122.60 L359.30,122.60 L359.70,122.60 L360.10,122.60 L360.50,122.59 L360.90,122.59 L361.30,122.58 L361.70,122.56 L362.10,122.53 L362.50,122.49 L362.90,122.44 L363.30,122.36 L363.70,122.26 L364.10,122.13 L364.50,121.98 L364.90,121.79 L365.30,121.59 L365.70,121.38 L366.10,121.18 L366.50,120.99 L366.90,120.83 L367.30,120.73 L367.70,120.68 L368.10,120.69 L368.50,120.75 L368.90,120.84 L369.30,120.97 L369.70,121.13 L370.10,121.30 L370.50,121.48 L370.90,121.66 L371.30,121.82 L371.70,121.98 L372.10,122.11 L372.50,122.23 L372.90,122.32 L373.30,122.40 L373.70,122.45 L374.10,122.50 L374.50,122.53 L374.90,122.55 L375.30,122.57 L375.70,122.58 L376.10,122.59 L376.50,122.59 L376.90,122.60 L377.30,122.60 L377.70,122.60 L378.10,122.60 L378.50,122.60 L378.90,122.60 L379.30,122.60 L379.70,122.60 L380.10,122.60 L380.50,122.60 L380.90,122.60 L381.30,122.60 L381.70,122.60 L382.10,122.60 L382.50,122.60 L382.90,122.60 L383.30,122.60 L383.70,122.60 L384.10,122.60 L384.50,122.60 L384.90,122.60 L385.30,122.60 L385.70,122.60 L386.10,122.60 L386.50,122.60 L386.90,122.60 L387.30,122.60 L387.70,122.60 L388.10,122.60 L388.50,122.60 L388.90,122.60 L389.30,122.60 L389.70,122.60 L390.10,122.60 L390.50,122.60 L390.90,122.60 L391.30,122.60 L391.70,122.60 L392.10,122.60 L392.50,122.60 L392.90,122.60 L393.30,122.60 L393.70,122.60 L394.10,122.60 L394.50,122.60 L394.90,122.60 L395.30,122.60 L395.70,122.60 L396.10,122.60 L396.50,122.60 L396.90,122.60 L397.30,122.60 L397.70,122.60 L398.10,122.60" fill="none" stroke="#D8245C" stroke-width="1.8" stroke-linejoin="round"/>
<line x1="297.6" y1="32.9" x2="305" y2="32.9" stroke="#8CCB3C" stroke-width="1.6"/>
<line x1="297.6" y1="45.0" x2="305" y2="45.0" stroke="#4655C8" stroke-width="1.6"/>
<line x1="297.6" y1="60.9" x2="305" y2="60.9" stroke="#EE5533" stroke-width="1.6"/>
<text x="306.4" y="35.0" font-size="8.9" font-weight="bold" fill="#111" textLength="31.2" lengthAdjust="spacingAndGlyphs">Micelle</text>
<text x="306.4" y="47.4" font-size="8.9" font-weight="bold" fill="#111" textLength="41.6" lengthAdjust="spacingAndGlyphs">Liposome</text>
<text x="306.4" y="64.2" font-size="8.9" font-weight="bold" fill="#111" textLength="90.6" lengthAdjust="spacingAndGlyphs">Mixture of Liposome,</text>
<text x="306.4" y="73.8" font-size="8.9" font-weight="bold" fill="#111" textLength="68.6" lengthAdjust="spacingAndGlyphs">Micelle and MIL</text>
<text x="391.8" y="23.6" font-size="23.5" font-weight="bold" textLength="14.6" lengthAdjust="spacingAndGlyphs">C</text>
<clipPath id="cc"><rect x="412.0" y="4.5" width="132.5" height="133.0"/></clipPath>
<g clip-path="url(#cc)"><rect x="412.0" y="4.5" width="132.5" height="133.0" filter="url(#nzC)"/>
<g fill="#c6c6c6" filter="url(#bl)"><circle cx="452.4" cy="19.7" r="1.39" fill-opacity="0.84"/><circle cx="456.7" cy="21.8" r="1.33" fill-opacity="0.85"/><circle cx="457.5" cy="25.1" r="1.42" fill-opacity="0.67"/><circle cx="451.7" cy="24.4" r="1.36" fill-opacity="0.89"/><circle cx="457.2" cy="18.0" r="1.23" fill-opacity="0.74"/><circle cx="461.9" cy="16.5" r="1.39" fill-opacity="0.71"/><circle cx="448.4" cy="23.1" r="1.43" fill-opacity="0.98"/><circle cx="453.8" cy="27.1" r="1.29" fill-opacity="0.96"/><circle cx="452.4" cy="16.1" r="1.30" fill-opacity="0.80"/><circle cx="461.0" cy="20.2" r="1.40" fill-opacity="0.91"/><circle cx="461.6" cy="23.7" r="1.14" fill-opacity="0.81"/><circle cx="464.8" cy="21.0" r="1.20" fill-opacity="0.87"/><circle cx="450.7" cy="31.0" r="1.30" fill-opacity="0.64"/><circle cx="458.9" cy="29.1" r="1.32" fill-opacity="0.99"/><circle cx="449.0" cy="16.4" r="1.42" fill-opacity="0.92"/><circle cx="448.0" cy="35.9" r="1.19" fill-opacity="0.85"/><circle cx="455.5" cy="31.7" r="1.21" fill-opacity="0.76"/><circle cx="448.8" cy="28.2" r="1.19" fill-opacity="0.64"/><circle cx="447.9" cy="19.7" r="1.32" fill-opacity="0.78"/><circle cx="443.1" cy="25.5" r="1.30" fill-opacity="0.65"/><circle cx="454.0" cy="13.3" r="1.38" fill-opacity="0.87"/><circle cx="461.4" cy="31.7" r="1.28" fill-opacity="0.78"/><circle cx="442.6" cy="20.6" r="1.22" fill-opacity="0.68"/><circle cx="438.6" cy="24.6" r="1.38" fill-opacity="0.80"/><circle cx="464.3" cy="14.3" r="1.10" fill-opacity="0.98"/><circle cx="452.8" cy="10.2" r="1.23" fill-opacity="0.84"/><circle cx="452.7" cy="37.2" r="1.12" fill-opacity="0.71"/><circle cx="465.0" cy="30.3" r="1.30" fill-opacity="0.94"/><circle cx="439.9" cy="28.0" r="1.15" fill-opacity="0.93"/><circle cx="435.9" cy="19.8" r="1.39" fill-opacity="0.89"/><circle cx="455.7" cy="41.5" r="1.38" fill-opacity="0.60"/><circle cx="436.0" cy="27.5" r="1.21" fill-opacity="0.80"/><circle cx="446.4" cy="26.3" r="1.28" fill-opacity="0.87"/><circle cx="446.8" cy="30.6" r="1.16" fill-opacity="0.71"/><circle cx="456.2" cy="9.5" r="1.15" fill-opacity="0.88"/><circle cx="440.3" cy="15.0" r="1.30" fill-opacity="0.66"/><circle cx="463.8" cy="10.8" r="1.37" fill-opacity="0.86"/><circle cx="451.6" cy="7.2" r="1.16" fill-opacity="0.62"/><circle cx="444.4" cy="17.2" r="1.40" fill-opacity="0.67"/><circle cx="448.0" cy="41.4" r="1.45" fill-opacity="0.93"/><circle cx="449.5" cy="11.7" r="1.19" fill-opacity="0.69"/><circle cx="465.5" cy="25.0" r="1.22" fill-opacity="0.72"/><circle cx="459.4" cy="13.9" r="1.31" fill-opacity="0.90"/><circle cx="451.1" cy="34.2" r="1.16" fill-opacity="0.89"/><circle cx="467.8" cy="22.0" r="1.33" fill-opacity="0.61"/><circle cx="449.7" cy="3.0" r="1.26" fill-opacity="0.69"/><circle cx="465.7" cy="36.1" r="1.13" fill-opacity="0.68"/><circle cx="445.2" cy="13.3" r="1.19" fill-opacity="0.90"/><circle cx="434.8" cy="23.1" r="1.26" fill-opacity="0.93"/><circle cx="456.1" cy="35.8" r="1.25" fill-opacity="0.65"/><circle cx="459.5" cy="10.7" r="1.25" fill-opacity="0.73"/><circle cx="441.9" cy="11.7" r="1.23" fill-opacity="0.66"/><circle cx="440.2" cy="6.3" r="1.17" fill-opacity="0.67"/><circle cx="454.9" cy="3.6" r="1.21" fill-opacity="0.85"/><circle cx="448.6" cy="-0.3" r="1.12" fill-opacity="0.72"/><circle cx="464.7" cy="17.8" r="1.26" fill-opacity="0.66"/><circle cx="430.4" cy="21.9" r="1.15" fill-opacity="0.88"/><circle cx="458.2" cy="39.4" r="1.14" fill-opacity="0.95"/><circle cx="439.3" cy="18.0" r="1.34" fill-opacity="0.75"/><circle cx="469.8" cy="29.0" r="1.41" fill-opacity="0.74"/><circle cx="445.2" cy="22.7" r="1.11" fill-opacity="0.95"/><circle cx="444.4" cy="3.0" r="1.33" fill-opacity="0.85"/><circle cx="459.3" cy="7.5" r="1.11" fill-opacity="0.90"/><circle cx="462.5" cy="27.9" r="1.16" fill-opacity="0.99"/><circle cx="444.5" cy="39.5" r="1.35" fill-opacity="0.80"/><circle cx="448.8" cy="8.6" r="1.41" fill-opacity="0.86"/><circle cx="439.0" cy="41.8" r="1.39" fill-opacity="0.82"/><circle cx="459.3" cy="35.0" r="1.24" fill-opacity="0.73"/><circle cx="464.9" cy="7.8" r="1.21" fill-opacity="0.83"/><circle cx="457.9" cy="1.2" r="1.24" fill-opacity="0.60"/><circle cx="439.1" cy="10.0" r="1.16" fill-opacity="0.87"/><circle cx="451.2" cy="39.9" r="1.31" fill-opacity="0.92"/><circle cx="432.9" cy="42.2" r="1.41" fill-opacity="0.64"/><circle cx="430.3" cy="26.4" r="1.16" fill-opacity="1.00"/><circle cx="443.3" cy="29.4" r="1.39" fill-opacity="0.75"/><circle cx="462.7" cy="41.7" r="1.41" fill-opacity="0.90"/><circle cx="454.2" cy="-0.3" r="1.11" fill-opacity="0.69"/><circle cx="429.0" cy="16.4" r="1.24" fill-opacity="0.66"/><circle cx="467.3" cy="12.9" r="1.14" fill-opacity="0.67"/><circle cx="444.3" cy="8.8" r="1.20" fill-opacity="0.88"/><circle cx="439.7" cy="34.1" r="1.30" fill-opacity="0.84"/><circle cx="437.8" cy="36.9" r="1.26" fill-opacity="0.81"/><circle cx="437.3" cy="31.6" r="1.18" fill-opacity="0.90"/><circle cx="472.6" cy="22.8" r="1.26" fill-opacity="0.97"/><circle cx="451.4" cy="-2.3" r="1.38" fill-opacity="0.98"/><circle cx="457.4" cy="-2.3" r="1.43" fill-opacity="0.71"/><circle cx="468.7" cy="32.6" r="1.27" fill-opacity="0.77"/><circle cx="442.9" cy="33.8" r="1.34" fill-opacity="0.79"/><circle cx="468.7" cy="25.6" r="1.22" fill-opacity="0.75"/><circle cx="434.3" cy="33.0" r="1.39" fill-opacity="0.86"/><circle cx="435.1" cy="39.9" r="1.23" fill-opacity="0.89"/><circle cx="432.3" cy="30.5" r="1.32" fill-opacity="0.74"/><circle cx="461.8" cy="1.9" r="1.14" fill-opacity="0.81"/><circle cx="451.0" cy="44.0" r="1.44" fill-opacity="0.63"/><circle cx="435.9" cy="10.3" r="1.39" fill-opacity="0.81"/><circle cx="456.0" cy="45.1" r="1.40" fill-opacity="0.90"/><circle cx="437.7" cy="2.3" r="1.31" fill-opacity="0.65"/><circle cx="469.8" cy="10.9" r="1.17" fill-opacity="0.63"/><circle cx="470.6" cy="19.9" r="1.38" fill-opacity="0.65"/><circle cx="446.8" cy="45.3" r="1.31" fill-opacity="0.68"/><circle cx="463.0" cy="-1.8" r="1.28" fill-opacity="0.79"/><circle cx="468.6" cy="16.0" r="1.15" fill-opacity="0.83"/><circle cx="433.3" cy="17.5" r="1.41" fill-opacity="0.97"/><circle cx="437.2" cy="45.8" r="1.37" fill-opacity="0.61"/><circle cx="465.7" cy="1.9" r="1.27" fill-opacity="0.71"/><circle cx="459.5" cy="46.2" r="1.29" fill-opacity="0.70"/><circle cx="464.5" cy="47.4" r="1.15" fill-opacity="0.74"/><circle cx="467.8" cy="47.6" r="1.41" fill-opacity="0.74"/><circle cx="469.3" cy="44.7" r="1.22" fill-opacity="0.93"/><circle cx="437.2" cy="14.8" r="1.14" fill-opacity="0.63"/><circle cx="431.2" cy="34.2" r="1.33" fill-opacity="0.99"/><circle cx="433.9" cy="14.3" r="1.18" fill-opacity="0.90"/><circle cx="473.7" cy="13.4" r="1.33" fill-opacity="0.61"/><circle cx="435.2" cy="7.3" r="1.43" fill-opacity="0.84"/><circle cx="471.7" cy="2.5" r="1.27" fill-opacity="0.82"/><circle cx="475.6" cy="17.6" r="1.32" fill-opacity="0.84"/><circle cx="441.0" cy="37.1" r="1.34" fill-opacity="0.74"/><circle cx="433.7" cy="36.5" r="1.43" fill-opacity="0.78"/><circle cx="468.9" cy="6.7" r="1.18" fill-opacity="0.91"/><circle cx="427.9" cy="38.0" r="1.39" fill-opacity="0.97"/><circle cx="462.9" cy="37.9" r="1.28" fill-opacity="0.77"/><circle cx="426.9" cy="13.1" r="1.40" fill-opacity="0.99"/><circle cx="428.2" cy="24.1" r="1.23" fill-opacity="0.99"/><circle cx="441.4" cy="1.7" r="1.36" fill-opacity="0.75"/><circle cx="443.5" cy="-1.3" r="1.24" fill-opacity="0.70"/><circle cx="431.6" cy="11.2" r="1.22" fill-opacity="0.66"/><circle cx="455.7" cy="49.6" r="1.18" fill-opacity="0.79"/><circle cx="467.2" cy="-0.8" r="1.10" fill-opacity="0.82"/><circle cx="439.6" cy="-2.2" r="1.35" fill-opacity="0.62"/><circle cx="461.4" cy="51.1" r="1.12" fill-opacity="0.72"/><circle cx="462.2" cy="5.9" r="1.31" fill-opacity="0.65"/><circle cx="473.2" cy="-2.0" r="1.30" fill-opacity="0.74"/><circle cx="426.0" cy="35.4" r="1.27" fill-opacity="0.91"/><circle cx="468.8" cy="37.1" r="1.27" fill-opacity="0.68"/><circle cx="465.7" cy="50.8" r="1.18" fill-opacity="0.72"/><circle cx="425.8" cy="18.5" r="1.21" fill-opacity="0.93"/><circle cx="447.1" cy="5.2" r="1.40" fill-opacity="0.84"/><circle cx="470.2" cy="40.3" r="1.25" fill-opacity="0.94"/><circle cx="431.8" cy="3.0" r="1.29" fill-opacity="0.99"/><circle cx="473.7" cy="44.1" r="1.23" fill-opacity="0.84"/><circle cx="437.8" cy="51.3" r="1.39" fill-opacity="0.97"/><circle cx="472.1" cy="26.0" r="1.32" fill-opacity="0.74"/><circle cx="433.4" cy="48.2" r="1.34" fill-opacity="0.94"/><circle cx="426.7" cy="2.2" r="1.30" fill-opacity="0.95"/><circle cx="450.5" cy="48.6" r="1.18" fill-opacity="0.62"/><circle cx="459.4" cy="42.4" r="1.20" fill-opacity="0.74"/><circle cx="467.5" cy="56.3" r="1.15" fill-opacity="0.76"/><circle cx="474.7" cy="3.7" r="1.27" fill-opacity="0.91"/><circle cx="443.4" cy="45.9" r="1.12" fill-opacity="0.93"/><circle cx="427.2" cy="28.5" r="1.24" fill-opacity="0.80"/><circle cx="423.7" cy="42.1" r="1.44" fill-opacity="0.93"/><circle cx="435.6" cy="-2.5" r="1.34" fill-opacity="0.86"/><circle cx="426.3" cy="9.6" r="1.27" fill-opacity="0.89"/><circle cx="479.1" cy="-1.4" r="1.15" fill-opacity="0.96"/><circle cx="431.3" cy="39.1" r="1.20" fill-opacity="0.97"/><circle cx="430.7" cy="6.6" r="1.26" fill-opacity="0.69"/><circle cx="430.6" cy="-1.1" r="1.37" fill-opacity="0.85"/><circle cx="422.2" cy="15.0" r="1.25" fill-opacity="0.93"/><circle cx="434.6" cy="0.5" r="1.39" fill-opacity="0.90"/><circle cx="466.1" cy="5.0" r="1.36" fill-opacity="0.96"/><circle cx="475.5" cy="47.0" r="1.32" fill-opacity="0.60"/><circle cx="470.8" cy="50.5" r="1.23" fill-opacity="0.95"/><circle cx="427.5" cy="46.7" r="1.21" fill-opacity="0.60"/><circle cx="423.1" cy="9.6" r="1.31" fill-opacity="0.79"/><circle cx="430.7" cy="46.5" r="1.24" fill-opacity="0.92"/><circle cx="475.5" cy="40.2" r="1.26" fill-opacity="0.76"/><circle cx="428.0" cy="32.4" r="1.22" fill-opacity="0.72"/><circle cx="425.7" cy="21.6" r="1.37" fill-opacity="0.94"/><circle cx="475.2" cy="29.1" r="1.16" fill-opacity="0.98"/><circle cx="444.2" cy="42.9" r="1.41" fill-opacity="0.69"/><circle cx="466.5" cy="42.3" r="1.25" fill-opacity="0.92"/><circle cx="429.1" cy="42.1" r="1.34" fill-opacity="0.71"/><circle cx="423.9" cy="38.7" r="1.43" fill-opacity="0.82"/><circle cx="458.3" cy="4.5" r="1.42" fill-opacity="0.93"/><circle cx="464.5" cy="61.1" r="1.17" fill-opacity="0.83"/><circle cx="433.7" cy="53.9" r="1.34" fill-opacity="0.96"/><circle cx="419.8" cy="18.6" r="1.25" fill-opacity="0.63"/><circle cx="422.0" cy="6.3" r="1.15" fill-opacity="0.65"/><circle cx="474.4" cy="33.2" r="1.41" fill-opacity="0.63"/><circle cx="441.5" cy="50.5" r="1.18" fill-opacity="0.70"/><circle cx="446.0" cy="49.0" r="1.18" fill-opacity="0.71"/><circle cx="420.2" cy="2.5" r="1.42" fill-opacity="0.98"/><circle cx="476.7" cy="23.4" r="1.39" fill-opacity="0.70"/><circle cx="475.9" cy="37.1" r="1.15" fill-opacity="0.97"/><circle cx="422.7" cy="19.9" r="1.24" fill-opacity="0.61"/><circle cx="477.8" cy="34.5" r="1.22" fill-opacity="0.89"/><circle cx="472.0" cy="53.5" r="1.19" fill-opacity="0.78"/><circle cx="479.3" cy="15.0" r="1.18" fill-opacity="0.89"/><circle cx="420.4" cy="22.1" r="1.26" fill-opacity="0.84"/><circle cx="480.0" cy="37.8" r="1.30" fill-opacity="0.94"/><circle cx="421.7" cy="47.2" r="1.20" fill-opacity="0.83"/><circle cx="415.5" cy="17.9" r="1.41" fill-opacity="0.71"/><circle cx="421.2" cy="27.7" r="1.21" fill-opacity="0.84"/><circle cx="415.6" cy="0.2" r="1.18" fill-opacity="0.91"/><circle cx="483.1" cy="34.2" r="1.30" fill-opacity="0.76"/><circle cx="426.7" cy="6.3" r="1.12" fill-opacity="0.82"/><circle cx="463.8" cy="57.7" r="1.40" fill-opacity="0.72"/><circle cx="416.8" cy="22.2" r="1.19" fill-opacity="0.74"/><circle cx="479.1" cy="10.4" r="1.26" fill-opacity="0.92"/><circle cx="431.4" cy="51.2" r="1.35" fill-opacity="0.68"/><circle cx="472.3" cy="30.9" r="1.27" fill-opacity="0.85"/><circle cx="478.9" cy="42.4" r="1.27" fill-opacity="0.93"/><circle cx="427.6" cy="49.9" r="1.31" fill-opacity="0.89"/><circle cx="483.2" cy="45.8" r="1.28" fill-opacity="0.71"/><circle cx="420.0" cy="35.6" r="1.15" fill-opacity="0.78"/><circle cx="417.4" cy="25.5" r="1.45" fill-opacity="0.83"/><circle cx="426.5" cy="54.3" r="1.14" fill-opacity="0.76"/><circle cx="471.4" cy="34.8" r="1.33" fill-opacity="0.68"/><circle cx="410.2" cy="0.8" r="1.26" fill-opacity="0.84"/><circle cx="423.2" cy="32.5" r="1.36" fill-opacity="0.72"/><circle cx="420.8" cy="40.4" r="1.23" fill-opacity="0.74"/><circle cx="478.4" cy="31.2" r="1.11" fill-opacity="0.64"/><circle cx="483.1" cy="39.1" r="1.10" fill-opacity="0.61"/><circle cx="422.0" cy="-0.4" r="1.33" fill-opacity="0.72"/><circle cx="415.3" cy="4.1" r="1.36" fill-opacity="0.95"/><circle cx="424.5" cy="25.2" r="1.30" fill-opacity="0.80"/><circle cx="440.5" cy="53.6" r="1.22" fill-opacity="0.82"/><circle cx="430.1" cy="54.2" r="1.11" fill-opacity="0.96"/><circle cx="470.8" cy="56.6" r="1.27" fill-opacity="0.82"/><circle cx="417.3" cy="11.1" r="1.12" fill-opacity="0.81"/><circle cx="471.5" cy="60.1" r="1.10" fill-opacity="0.81"/><circle cx="413.5" cy="27.9" r="1.45" fill-opacity="0.70"/><circle cx="479.1" cy="3.3" r="1.37" fill-opacity="0.67"/><circle cx="463.1" cy="34.4" r="1.31" fill-opacity="0.76"/><circle cx="419.0" cy="14.4" r="1.28" fill-opacity="0.96"/><circle cx="412.6" cy="6.4" r="1.22" fill-opacity="0.79"/><circle cx="475.1" cy="8.8" r="1.19" fill-opacity="0.83"/><circle cx="480.4" cy="18.0" r="1.40" fill-opacity="0.77"/><circle cx="419.2" cy="43.7" r="1.44" fill-opacity="0.80"/><circle cx="415.6" cy="14.6" r="1.18" fill-opacity="0.83"/><circle cx="419.3" cy="7.7" r="1.22" fill-opacity="0.65"/><circle cx="478.0" cy="27.0" r="1.19" fill-opacity="0.89"/><circle cx="418.6" cy="30.3" r="1.29" fill-opacity="0.67"/><circle cx="474.1" cy="49.9" r="1.36" fill-opacity="0.75"/><circle cx="477.3" cy="6.1" r="1.34" fill-opacity="0.72"/><circle cx="413.3" cy="21.7" r="1.17" fill-opacity="0.96"/><circle cx="452.0" cy="52.1" r="1.12" fill-opacity="0.92"/><circle cx="466.4" cy="39.2" r="1.14" fill-opacity="0.82"/><circle cx="407.9" cy="3.0" r="1.22" fill-opacity="0.76"/><circle cx="427.0" cy="-1.9" r="1.25" fill-opacity="0.66"/><circle cx="405.4" cy="-2.2" r="1.20" fill-opacity="0.85"/><circle cx="475.4" cy="59.8" r="1.32" fill-opacity="0.97"/><circle cx="416.9" cy="37.8" r="1.38" fill-opacity="0.96"/><circle cx="412.8" cy="-2.1" r="1.36" fill-opacity="0.97"/><circle cx="486.1" cy="37.7" r="1.19" fill-opacity="0.70"/><circle cx="415.3" cy="47.3" r="1.24" fill-opacity="0.66"/><circle cx="416.2" cy="41.8" r="1.37" fill-opacity="0.86"/><circle cx="448.5" cy="52.7" r="1.28" fill-opacity="0.87"/><circle cx="475.8" cy="0.2" r="1.31" fill-opacity="0.81"/><circle cx="414.2" cy="35.7" r="1.33" fill-opacity="0.80"/><circle cx="413.9" cy="44.0" r="1.28" fill-opacity="0.67"/><circle cx="416.7" cy="33.8" r="1.44" fill-opacity="0.94"/><circle cx="423.9" cy="50.2" r="1.12" fill-opacity="0.81"/><circle cx="467.8" cy="59.6" r="1.42" fill-opacity="0.68"/><circle cx="418.6" cy="-1.5" r="1.23" fill-opacity="0.75"/><circle cx="412.3" cy="13.6" r="1.21" fill-opacity="0.99"/><circle cx="456.9" cy="53.3" r="1.32" fill-opacity="0.74"/><circle cx="462.7" cy="54.6" r="1.41" fill-opacity="0.82"/><circle cx="459.6" cy="55.5" r="1.30" fill-opacity="0.75"/><circle cx="455.1" cy="56.3" r="1.35" fill-opacity="0.78"/><circle cx="431.4" cy="57.7" r="1.16" fill-opacity="0.88"/><circle cx="468.1" cy="53.2" r="1.17" fill-opacity="0.63"/><circle cx="408.2" cy="10.0" r="1.14" fill-opacity="0.65"/><circle cx="410.7" cy="17.1" r="1.27" fill-opacity="0.68"/><circle cx="482.7" cy="4.6" r="1.19" fill-opacity="0.75"/><circle cx="436.1" cy="56.8" r="1.42" fill-opacity="0.67"/><circle cx="478.8" cy="46.2" r="1.10" fill-opacity="0.81"/><circle cx="441.1" cy="57.9" r="1.12" fill-opacity="0.78"/><circle cx="415.6" cy="8.4" r="1.12" fill-opacity="0.94"/><circle cx="405.5" cy="14.3" r="1.33" fill-opacity="0.65"/><circle cx="478.4" cy="58.6" r="1.33" fill-opacity="0.79"/><circle cx="480.4" cy="22.4" r="1.33" fill-opacity="0.69"/><circle cx="408.6" cy="13.8" r="1.20" fill-opacity="0.96"/><circle cx="482.5" cy="30.8" r="1.20" fill-opacity="0.87"/><circle cx="412.1" cy="9.7" r="1.13" fill-opacity="0.85"/><circle cx="426.8" cy="58.2" r="1.25" fill-opacity="0.85"/><circle cx="482.3" cy="8.5" r="1.39" fill-opacity="0.91"/><circle cx="445.3" cy="52.3" r="1.23" fill-opacity="0.67"/><circle cx="475.0" cy="55.2" r="1.12" fill-opacity="0.91"/><circle cx="472.2" cy="6.7" r="1.18" fill-opacity="0.75"/><circle cx="445.3" cy="56.8" r="1.41" fill-opacity="0.86"/><circle cx="423.7" cy="3.5" r="1.25" fill-opacity="0.76"/><circle cx="481.9" cy="48.9" r="1.15" fill-opacity="0.90"/><circle cx="469.1" cy="62.9" r="1.32" fill-opacity="0.81"/><circle cx="405.9" cy="17.6" r="1.45" fill-opacity="0.86"/><circle cx="423.1" cy="54.2" r="1.44" fill-opacity="0.83"/><circle cx="470.2" cy="-0.5" r="1.22" fill-opacity="0.68"/><circle cx="458.8" cy="59.0" r="1.22" fill-opacity="0.86"/><circle cx="428.9" cy="61.2" r="1.41" fill-opacity="0.61"/><circle cx="434.2" cy="59.5" r="1.21" fill-opacity="0.70"/><circle cx="483.7" cy="19.3" r="1.17" fill-opacity="0.67"/><circle cx="460.3" cy="61.8" r="1.41" fill-opacity="0.80"/><circle cx="478.3" cy="51.7" r="1.33" fill-opacity="0.67"/><circle cx="481.9" cy="13.2" r="1.13" fill-opacity="0.85"/><circle cx="405.9" cy="7.2" r="1.26" fill-opacity="0.90"/><circle cx="449.9" cy="58.8" r="1.44" fill-opacity="0.77"/><circle cx="482.4" cy="52.1" r="1.30" fill-opacity="0.84"/><circle cx="482.9" cy="0.1" r="1.13" fill-opacity="0.92"/><circle cx="434.4" cy="62.7" r="1.33" fill-opacity="0.86"/><circle cx="478.7" cy="54.8" r="1.28" fill-opacity="0.63"/><circle cx="438.2" cy="59.4" r="1.17" fill-opacity="0.92"/><circle cx="444.0" cy="60.8" r="1.31" fill-opacity="0.92"/><circle cx="486.8" cy="32.3" r="1.23" fill-opacity="0.66"/><circle cx="485.9" cy="28.8" r="1.43" fill-opacity="0.98"/><circle cx="491.8" cy="37.0" r="1.26" fill-opacity="0.79"/><circle cx="489.4" cy="45.8" r="1.19" fill-opacity="0.92"/><circle cx="424.4" cy="63.2" r="1.20" fill-opacity="0.99"/><circle cx="412.8" cy="31.9" r="1.30" fill-opacity="0.60"/><circle cx="420.5" cy="52.1" r="1.14" fill-opacity="0.70"/><circle cx="467.2" cy="67.3" r="1.44" fill-opacity="0.61"/><circle cx="410.8" cy="40.2" r="1.27" fill-opacity="0.95"/><circle cx="417.4" cy="55.5" r="1.34" fill-opacity="0.64"/><circle cx="472.6" cy="65.7" r="1.19" fill-opacity="0.95"/><circle cx="484.9" cy="16.2" r="1.41" fill-opacity="0.87"/><circle cx="456.5" cy="61.6" r="1.12" fill-opacity="0.75"/><circle cx="417.2" cy="51.6" r="1.24" fill-opacity="0.82"/><circle cx="409.0" cy="20.3" r="1.34" fill-opacity="0.81"/><circle cx="472.0" cy="47.6" r="1.28" fill-opacity="0.69"/><circle cx="483.5" cy="25.2" r="1.19" fill-opacity="0.68"/><circle cx="482.3" cy="56.4" r="1.29" fill-opacity="0.90"/><circle cx="487.1" cy="50.0" r="1.25" fill-opacity="0.65"/><circle cx="440.2" cy="46.5" r="1.24" fill-opacity="0.93"/><circle cx="487.4" cy="41.1" r="1.37" fill-opacity="0.88"/><circle cx="451.2" cy="64.2" r="1.14" fill-opacity="0.79"/><circle cx="410.3" cy="46.1" r="1.23" fill-opacity="0.96"/><circle cx="486.4" cy="8.8" r="1.15" fill-opacity="0.91"/><circle cx="488.6" cy="20.0" r="1.11" fill-opacity="0.61"/><circle cx="434.1" cy="65.9" r="1.41" fill-opacity="0.71"/><circle cx="483.3" cy="60.0" r="1.30" fill-opacity="0.74"/><circle cx="418.8" cy="48.5" r="1.26" fill-opacity="0.95"/><circle cx="486.1" cy="12.8" r="1.31" fill-opacity="0.62"/><circle cx="491.6" cy="29.8" r="1.11" fill-opacity="0.89"/><circle cx="410.4" cy="35.0" r="1.20" fill-opacity="0.77"/><circle cx="428.7" cy="64.4" r="1.33" fill-opacity="0.84"/><circle cx="421.2" cy="58.4" r="1.18" fill-opacity="0.87"/><circle cx="440.8" cy="61.5" r="1.35" fill-opacity="0.89"/><circle cx="409.2" cy="6.4" r="1.45" fill-opacity="0.65"/><circle cx="447.7" cy="62.0" r="1.13" fill-opacity="0.78"/><circle cx="477.8" cy="67.5" r="1.27" fill-opacity="0.93"/><circle cx="408.0" cy="30.9" r="1.41" fill-opacity="0.72"/><circle cx="408.4" cy="42.7" r="1.18" fill-opacity="0.66"/><circle cx="414.3" cy="54.5" r="1.13" fill-opacity="0.61"/><circle cx="477.8" cy="73.1" r="1.44" fill-opacity="0.73"/><circle cx="452.4" cy="67.2" r="1.35" fill-opacity="0.63"/><circle cx="490.4" cy="13.2" r="1.22" fill-opacity="0.89"/><circle cx="478.2" cy="20.2" r="1.23" fill-opacity="0.97"/><circle cx="487.0" cy="55.1" r="1.20" fill-opacity="0.80"/><circle cx="443.3" cy="65.8" r="1.42" fill-opacity="0.83"/><circle cx="478.6" cy="62.0" r="1.14" fill-opacity="0.98"/><circle cx="483.5" cy="65.1" r="1.33" fill-opacity="0.86"/><circle cx="488.6" cy="35.3" r="1.10" fill-opacity="0.95"/><circle cx="446.4" cy="66.4" r="1.32" fill-opacity="0.83"/><circle cx="475.1" cy="62.9" r="1.41" fill-opacity="0.83"/><circle cx="481.1" cy="27.9" r="1.20" fill-opacity="0.70"/><circle cx="413.7" cy="24.8" r="1.16" fill-opacity="0.77"/><circle cx="458.1" cy="65.0" r="1.13" fill-opacity="0.79"/><circle cx="459.4" cy="69.8" r="1.27" fill-opacity="0.83"/><circle cx="449.1" cy="69.6" r="1.13" fill-opacity="0.70"/><circle cx="412.8" cy="49.8" r="1.33" fill-opacity="0.61"/><circle cx="463.3" cy="67.0" r="1.40" fill-opacity="0.79"/><circle cx="437.5" cy="67.5" r="1.25" fill-opacity="0.64"/><circle cx="417.7" cy="58.8" r="1.26" fill-opacity="0.96"/><circle cx="407.2" cy="46.6" r="1.38" fill-opacity="0.97"/><circle cx="488.9" cy="16.7" r="1.31" fill-opacity="0.82"/><circle cx="406.1" cy="40.2" r="1.11" fill-opacity="0.92"/><circle cx="405.7" cy="21.6" r="1.15" fill-opacity="0.84"/><circle cx="485.4" cy="-2.0" r="1.24" fill-opacity="0.92"/><circle cx="409.8" cy="24.7" r="1.28" fill-opacity="0.95"/><circle cx="414.0" cy="39.0" r="1.36" fill-opacity="0.93"/><circle cx="492.8" cy="33.7" r="1.13" fill-opacity="0.81"/><circle cx="453.1" cy="60.5" r="1.36" fill-opacity="0.94"/><circle cx="482.5" cy="75.1" r="1.29" fill-opacity="0.72"/><circle cx="490.7" cy="50.0" r="1.45" fill-opacity="0.73"/><circle cx="480.4" cy="64.8" r="1.37" fill-opacity="0.85"/><circle cx="422.0" cy="65.6" r="1.22" fill-opacity="0.70"/><circle cx="492.6" cy="56.7" r="1.14" fill-opacity="0.62"/><circle cx="412.3" cy="3.1" r="1.11" fill-opacity="0.88"/><circle cx="487.1" cy="1.3" r="1.39" fill-opacity="0.90"/><circle cx="493.0" cy="42.0" r="1.24" fill-opacity="0.97"/><circle cx="476.2" cy="70.2" r="1.43" fill-opacity="0.73"/><circle cx="410.2" cy="28.0" r="1.30" fill-opacity="0.88"/><circle cx="440.4" cy="70.0" r="1.35" fill-opacity="0.71"/><circle cx="421.3" cy="62.1" r="1.21" fill-opacity="0.77"/><circle cx="490.2" cy="53.3" r="1.23" fill-opacity="0.93"/><circle cx="473.0" cy="71.4" r="1.26" fill-opacity="0.62"/><circle cx="469.2" cy="74.8" r="1.22" fill-opacity="0.95"/><circle cx="407.6" cy="36.4" r="1.40" fill-opacity="0.91"/><circle cx="453.3" cy="46.7" r="1.31" fill-opacity="0.72"/><circle cx="454.4" cy="64.4" r="1.32" fill-opacity="0.68"/><circle cx="415.2" cy="62.8" r="1.15" fill-opacity="0.97"/><circle cx="433.8" cy="71.7" r="1.39" fill-opacity="0.64"/><circle cx="453.6" cy="70.6" r="1.42" fill-opacity="0.76"/><circle cx="492.5" cy="18.9" r="1.42" fill-opacity="0.77"/><circle cx="453.2" cy="74.2" r="1.19" fill-opacity="0.74"/><circle cx="451.5" cy="55.3" r="1.15" fill-opacity="0.92"/><circle cx="486.8" cy="71.2" r="1.10" fill-opacity="0.62"/><circle cx="495.6" cy="49.8" r="1.18" fill-opacity="0.68"/><circle cx="408.1" cy="51.6" r="1.39" fill-opacity="0.66"/><circle cx="485.6" cy="57.8" r="1.25" fill-opacity="0.86"/><circle cx="493.6" cy="13.5" r="1.32" fill-opacity="0.89"/><circle cx="491.6" cy="10.2" r="1.39" fill-opacity="0.87"/><circle cx="431.6" cy="74.6" r="1.15" fill-opacity="0.71"/><circle cx="489.7" cy="24.4" r="1.14" fill-opacity="0.77"/><circle cx="486.4" cy="23.4" r="1.19" fill-opacity="0.97"/><circle cx="406.3" cy="26.5" r="1.14" fill-opacity="0.92"/><circle cx="498.0" cy="13.8" r="1.15" fill-opacity="0.64"/><circle cx="444.8" cy="71.9" r="1.20" fill-opacity="0.80"/><circle cx="488.6" cy="6.7" r="1.32" fill-opacity="0.86"/><circle cx="496.4" cy="34.9" r="1.25" fill-opacity="0.79"/><circle cx="482.7" cy="70.4" r="1.32" fill-opacity="0.97"/><circle cx="486.9" cy="62.9" r="1.33" fill-opacity="0.67"/><circle cx="473.5" cy="77.9" r="1.18" fill-opacity="0.95"/><circle cx="465.5" cy="71.8" r="1.14" fill-opacity="0.69"/><circle cx="497.3" cy="9.3" r="1.19" fill-opacity="0.79"/><circle cx="493.0" cy="45.2" r="1.29" fill-opacity="0.81"/><circle cx="455.7" cy="67.7" r="1.36" fill-opacity="0.89"/><circle cx="443.2" cy="74.8" r="1.15" fill-opacity="0.72"/><circle cx="494.7" cy="59.2" r="1.43" fill-opacity="0.77"/><circle cx="437.6" cy="62.6" r="1.40" fill-opacity="0.77"/><circle cx="479.7" cy="78.1" r="1.19" fill-opacity="0.66"/><circle cx="418.5" cy="63.5" r="1.39" fill-opacity="0.90"/><circle cx="462.3" cy="74.6" r="1.31" fill-opacity="0.70"/><circle cx="496.5" cy="38.5" r="1.22" fill-opacity="0.79"/><circle cx="437.7" cy="76.4" r="1.38" fill-opacity="0.80"/><circle cx="474.2" cy="74.5" r="1.31" fill-opacity="0.70"/><circle cx="458.2" cy="73.2" r="1.13" fill-opacity="0.78"/><circle cx="440.3" cy="64.9" r="1.33" fill-opacity="0.92"/><circle cx="496.8" cy="31.8" r="1.27" fill-opacity="0.71"/><circle cx="430.1" cy="70.9" r="1.27" fill-opacity="0.86"/><circle cx="489.3" cy="58.5" r="1.36" fill-opacity="1.00"/><circle cx="498.0" cy="17.4" r="1.28" fill-opacity="0.92"/><circle cx="494.2" cy="53.3" r="1.33" fill-opacity="0.64"/><circle cx="424.9" cy="69.2" r="1.13" fill-opacity="0.92"/><circle cx="487.3" cy="67.8" r="1.31" fill-opacity="0.90"/><circle cx="410.1" cy="54.4" r="1.33" fill-opacity="0.95"/><circle cx="496.8" cy="26.9" r="1.37" fill-opacity="0.78"/><circle cx="483.1" cy="78.6" r="1.35" fill-opacity="0.76"/><circle cx="461.9" cy="77.9" r="1.44" fill-opacity="0.74"/><circle cx="473.7" cy="83.7" r="1.36" fill-opacity="0.72"/><circle cx="474.9" cy="89.5" r="1.44" fill-opacity="0.86"/><circle cx="427.7" cy="67.3" r="1.28" fill-opacity="0.98"/><circle cx="499.7" cy="52.7" r="1.24" fill-opacity="0.65"/><circle cx="421.8" cy="70.0" r="1.35" fill-opacity="0.94"/><circle cx="491.9" cy="62.3" r="1.11" fill-opacity="0.92"/><circle cx="493.5" cy="66.1" r="1.39" fill-opacity="0.92"/><circle cx="444.9" cy="78.3" r="1.31" fill-opacity="0.76"/><circle cx="450.4" cy="80.2" r="1.42" fill-opacity="0.61"/><circle cx="497.9" cy="42.9" r="1.27" fill-opacity="0.68"/><circle cx="458.2" cy="78.7" r="1.30" fill-opacity="0.64"/><circle cx="498.5" cy="47.0" r="1.27" fill-opacity="0.87"/><circle cx="487.4" cy="76.3" r="1.26" fill-opacity="0.95"/><circle cx="497.6" cy="57.5" r="1.42" fill-opacity="0.82"/><circle cx="448.5" cy="73.5" r="1.21" fill-opacity="0.94"/><circle cx="479.3" cy="70.2" r="1.16" fill-opacity="0.88"/><circle cx="497.8" cy="67.8" r="1.11" fill-opacity="0.68"/><circle cx="466.3" cy="76.4" r="1.41" fill-opacity="0.81"/><circle cx="493.2" cy="24.6" r="1.13" fill-opacity="0.61"/><circle cx="498.4" cy="23.1" r="1.18" fill-opacity="0.87"/><circle cx="470.8" cy="90.3" r="1.30" fill-opacity="0.69"/><circle cx="432.2" cy="68.3" r="1.39" fill-opacity="0.98"/><circle cx="453.6" cy="79.9" r="1.22" fill-opacity="0.79"/><circle cx="494.7" cy="4.2" r="1.24" fill-opacity="0.87"/><circle cx="496.2" cy="0.1" r="1.41" fill-opacity="0.66"/><circle cx="411.6" cy="59.0" r="1.17" fill-opacity="0.82"/><circle cx="445.6" cy="82.9" r="1.25" fill-opacity="0.71"/><circle cx="406.9" cy="57.5" r="1.12" fill-opacity="0.99"/><circle cx="489.6" cy="65.7" r="1.28" fill-opacity="0.63"/><circle cx="439.8" cy="73.4" r="1.27" fill-opacity="0.69"/><circle cx="471.3" cy="80.4" r="1.27" fill-opacity="0.67"/><circle cx="477.8" cy="91.3" r="1.25" fill-opacity="0.73"/><circle cx="488.9" cy="80.1" r="1.11" fill-opacity="0.61"/><circle cx="469.7" cy="70.6" r="1.35" fill-opacity="0.93"/><circle cx="418.1" cy="69.2" r="1.21" fill-opacity="0.79"/><circle cx="485.6" cy="83.6" r="1.26" fill-opacity="0.96"/><circle cx="492.6" cy="-0.1" r="1.19" fill-opacity="0.98"/><circle cx="490.6" cy="71.1" r="1.21" fill-opacity="0.69"/><circle cx="405.5" cy="33.0" r="1.22" fill-opacity="0.86"/><circle cx="480.6" cy="83.3" r="1.32" fill-opacity="0.60"/><circle cx="476.7" cy="82.1" r="1.33" fill-opacity="0.83"/><circle cx="435.5" cy="81.3" r="1.19" fill-opacity="0.66"/><circle cx="442.7" cy="80.7" r="1.18" fill-opacity="0.89"/><circle cx="497.8" cy="4.8" r="1.13" fill-opacity="0.78"/><circle cx="462.3" cy="71.4" r="1.16" fill-opacity="0.66"/><circle cx="466.7" cy="79.8" r="1.30" fill-opacity="0.67"/><circle cx="437.1" cy="71.8" r="1.36" fill-opacity="0.68"/><circle cx="502.0" cy="56.3" r="1.45" fill-opacity="0.90"/><circle cx="451.1" cy="84.8" r="1.12" fill-opacity="0.97"/><circle cx="456.9" cy="81.8" r="1.24" fill-opacity="0.60"/><circle cx="455.1" cy="77.0" r="1.33" fill-opacity="0.79"/><circle cx="419.4" cy="72.5" r="1.28" fill-opacity="0.67"/><circle cx="495.4" cy="62.6" r="1.26" fill-opacity="0.99"/><circle cx="502.0" cy="13.5" r="1.36" fill-opacity="0.62"/><circle cx="494.1" cy="76.8" r="1.11" fill-opacity="0.99"/><circle cx="438.1" cy="86.7" r="1.19" fill-opacity="0.95"/><circle cx="501.5" cy="49.9" r="1.36" fill-opacity="0.90"/><circle cx="405.6" cy="49.6" r="1.37" fill-opacity="0.72"/><circle cx="424.2" cy="29.5" r="1.41" fill-opacity="0.84"/><circle cx="414.0" cy="70.6" r="1.40" fill-opacity="0.93"/><circle cx="485.9" cy="5.1" r="1.28" fill-opacity="0.96"/><circle cx="424.0" cy="75.1" r="1.18" fill-opacity="0.99"/><circle cx="500.2" cy="30.2" r="1.38" fill-opacity="0.95"/><circle cx="484.4" cy="42.3" r="1.25" fill-opacity="0.68"/><circle cx="444.6" cy="87.5" r="1.20" fill-opacity="0.75"/><circle cx="497.4" cy="72.0" r="1.15" fill-opacity="0.68"/><circle cx="450.3" cy="76.8" r="1.27" fill-opacity="0.61"/><circle cx="468.3" cy="82.5" r="1.39" fill-opacity="0.65"/><circle cx="432.7" cy="79.2" r="1.39" fill-opacity="0.72"/><circle cx="500.6" cy="71.5" r="1.22" fill-opacity="0.80"/><circle cx="477.2" cy="85.5" r="1.24" fill-opacity="0.93"/><circle cx="450.6" cy="88.4" r="1.37" fill-opacity="0.91"/><circle cx="412.1" cy="66.2" r="1.38" fill-opacity="0.85"/><circle cx="500.6" cy="9.3" r="1.25" fill-opacity="0.71"/><circle cx="476.6" cy="77.3" r="1.27" fill-opacity="0.83"/><circle cx="495.8" cy="21.3" r="1.13" fill-opacity="0.81"/><circle cx="461.5" cy="82.6" r="1.13" fill-opacity="0.65"/><circle cx="502.3" cy="18.1" r="1.21" fill-opacity="0.99"/><circle cx="439.5" cy="83.5" r="1.30" fill-opacity="0.93"/><circle cx="405.0" cy="1.1" r="1.25" fill-opacity="0.81"/><circle cx="506.2" cy="49.2" r="1.12" fill-opacity="0.80"/><circle cx="474.0" cy="93.1" r="1.30" fill-opacity="0.84"/><circle cx="433.6" cy="84.1" r="1.21" fill-opacity="0.87"/><circle cx="499.6" cy="-0.2" r="1.45" fill-opacity="0.86"/><circle cx="505.6" cy="0.0" r="1.26" fill-opacity="0.79"/><circle cx="501.2" cy="45.2" r="1.24" fill-opacity="0.68"/><circle cx="430.8" cy="82.4" r="1.23" fill-opacity="0.72"/><circle cx="501.9" cy="41.9" r="1.25" fill-opacity="0.68"/><circle cx="480.7" cy="89.3" r="1.26" fill-opacity="0.65"/><circle cx="498.5" cy="61.9" r="1.31" fill-opacity="0.87"/><circle cx="441.7" cy="86.3" r="1.24" fill-opacity="0.96"/><circle cx="440.4" cy="78.3" r="1.31" fill-opacity="0.96"/><circle cx="491.1" cy="82.8" r="1.22" fill-opacity="0.66"/><circle cx="427.1" cy="72.4" r="1.33" fill-opacity="0.89"/><circle cx="493.7" cy="72.1" r="1.18" fill-opacity="0.85"/><circle cx="441.3" cy="90.1" r="1.45" fill-opacity="0.63"/><circle cx="502.2" cy="33.0" r="1.25" fill-opacity="0.79"/><circle cx="434.6" cy="76.7" r="1.40" fill-opacity="0.74"/><circle cx="459.1" cy="84.7" r="1.26" fill-opacity="0.90"/><circle cx="498.5" cy="77.1" r="1.39" fill-opacity="0.72"/><circle cx="492.3" cy="6.5" r="1.32" fill-opacity="0.71"/><circle cx="482.6" cy="94.0" r="1.22" fill-opacity="0.85"/><circle cx="490.9" cy="2.8" r="1.18" fill-opacity="0.82"/><circle cx="448.3" cy="86.2" r="1.43" fill-opacity="0.69"/><circle cx="422.4" cy="79.8" r="1.40" fill-opacity="0.74"/><circle cx="428.9" cy="77.6" r="1.23" fill-opacity="0.61"/><circle cx="505.7" cy="18.2" r="1.12" fill-opacity="0.61"/><circle cx="469.6" cy="94.1" r="1.41" fill-opacity="0.90"/><circle cx="499.6" cy="38.5" r="1.43" fill-opacity="0.93"/><circle cx="501.4" cy="21.4" r="1.27" fill-opacity="0.72"/><circle cx="455.7" cy="85.5" r="1.16" fill-opacity="0.69"/><circle cx="417.8" cy="75.2" r="1.37" fill-opacity="0.91"/><circle cx="486.3" cy="88.3" r="1.15" fill-opacity="0.69"/><circle cx="502.3" cy="76.3" r="1.14" fill-opacity="0.99"/><circle cx="470.7" cy="85.4" r="1.35" fill-opacity="0.62"/><circle cx="426.1" cy="81.4" r="1.42" fill-opacity="0.82"/><circle cx="497.9" cy="83.0" r="1.45" fill-opacity="0.83"/><circle cx="490.9" cy="75.4" r="1.25" fill-opacity="0.65"/><circle cx="421.0" cy="76.7" r="1.23" fill-opacity="0.75"/><circle cx="406.1" cy="54.4" r="1.28" fill-opacity="0.96"/><circle cx="483.5" cy="86.1" r="1.11" fill-opacity="0.84"/><circle cx="504.6" cy="38.5" r="1.37" fill-opacity="0.76"/><circle cx="444.9" cy="91.1" r="1.17" fill-opacity="0.96"/><circle cx="409.2" cy="64.4" r="1.15" fill-opacity="0.87"/><circle cx="407.4" cy="61.5" r="1.28" fill-opacity="0.96"/><circle cx="465.1" cy="83.5" r="1.41" fill-opacity="0.64"/><circle cx="505.3" cy="22.0" r="1.20" fill-opacity="1.00"/><circle cx="418.8" cy="84.2" r="1.42" fill-opacity="0.81"/><circle cx="489.9" cy="85.7" r="1.25" fill-opacity="0.84"/><circle cx="418.9" cy="79.1" r="1.14" fill-opacity="0.75"/><circle cx="502.9" cy="26.1" r="1.28" fill-opacity="0.95"/><circle cx="473.1" cy="97.1" r="1.45" fill-opacity="0.70"/><circle cx="505.6" cy="10.5" r="1.16" fill-opacity="0.91"/><circle cx="499.7" cy="88.2" r="1.40" fill-opacity="0.64"/><circle cx="442.2" cy="94.9" r="1.25" fill-opacity="0.88"/><circle cx="500.8" cy="66.2" r="1.23" fill-opacity="0.84"/><circle cx="494.8" cy="82.2" r="1.42" fill-opacity="0.77"/><circle cx="437.0" cy="90.3" r="1.15" fill-opacity="0.60"/><circle cx="406.0" cy="65.3" r="1.37" fill-opacity="0.62"/><circle cx="501.1" cy="3.6" r="1.34" fill-opacity="0.86"/><circle cx="453.9" cy="89.6" r="1.14" fill-opacity="0.71"/><circle cx="438.8" cy="92.9" r="1.16" fill-opacity="0.73"/><circle cx="412.0" cy="62.8" r="1.17" fill-opacity="0.64"/><circle cx="505.2" cy="58.4" r="1.41" fill-opacity="0.64"/><circle cx="505.4" cy="14.8" r="1.26" fill-opacity="0.95"/><circle cx="490.2" cy="90.6" r="1.18" fill-opacity="0.92"/><circle cx="495.9" cy="86.9" r="1.25" fill-opacity="0.76"/><circle cx="478.8" cy="96.8" r="1.22" fill-opacity="0.84"/><circle cx="408.3" cy="68.9" r="1.34" fill-opacity="0.66"/><circle cx="508.3" cy="56.4" r="1.12" fill-opacity="0.95"/><circle cx="503.8" cy="85.8" r="1.25" fill-opacity="0.91"/><circle cx="511.1" cy="13.1" r="1.10" fill-opacity="0.97"/><circle cx="505.1" cy="80.0" r="1.21" fill-opacity="0.80"/><circle cx="465.6" cy="88.1" r="1.42" fill-opacity="0.63"/><circle cx="510.6" cy="23.7" r="1.42" fill-opacity="0.83"/><circle cx="425.9" cy="84.6" r="1.28" fill-opacity="0.62"/><circle cx="507.4" cy="27.0" r="1.43" fill-opacity="0.99"/><circle cx="492.6" cy="87.8" r="1.13" fill-opacity="0.63"/><circle cx="499.3" cy="80.2" r="1.33" fill-opacity="0.97"/><circle cx="483.6" cy="97.4" r="1.22" fill-opacity="0.76"/><circle cx="445.7" cy="94.6" r="1.24" fill-opacity="0.61"/><circle cx="434.3" cy="88.5" r="1.17" fill-opacity="0.93"/><circle cx="412.0" cy="75.0" r="1.18" fill-opacity="0.74"/><circle cx="405.1" cy="70.0" r="1.18" fill-opacity="0.86"/><circle cx="507.7" cy="32.8" r="1.20" fill-opacity="0.92"/><circle cx="461.9" cy="88.0" r="1.11" fill-opacity="0.83"/><circle cx="509.5" cy="39.5" r="1.17" fill-opacity="0.74"/><circle cx="443.2" cy="98.0" r="1.24" fill-opacity="0.91"/><circle cx="427.9" cy="87.9" r="1.40" fill-opacity="0.72"/><circle cx="487.6" cy="95.0" r="1.38" fill-opacity="0.66"/><circle cx="505.0" cy="44.5" r="1.14" fill-opacity="0.98"/><circle cx="429.6" cy="90.8" r="1.34" fill-opacity="0.66"/><circle cx="489.1" cy="-2.0" r="1.21" fill-opacity="0.61"/><circle cx="504.9" cy="74.4" r="1.14" fill-opacity="0.99"/><circle cx="510.0" cy="48.9" r="1.19" fill-opacity="0.79"/><circle cx="501.6" cy="60.6" r="1.24" fill-opacity="0.91"/><circle cx="507.0" cy="84.9" r="1.29" fill-opacity="0.73"/><circle cx="505.2" cy="64.4" r="1.34" fill-opacity="0.98"/><circle cx="415.2" cy="65.9" r="1.23" fill-opacity="0.88"/><circle cx="449.0" cy="91.7" r="1.16" fill-opacity="0.69"/><circle cx="504.3" cy="3.0" r="1.44" fill-opacity="0.94"/><circle cx="415.5" cy="78.0" r="1.37" fill-opacity="0.75"/><circle cx="433.9" cy="95.4" r="1.29" fill-opacity="0.73"/><circle cx="505.5" cy="52.9" r="1.23" fill-opacity="0.96"/><circle cx="449.4" cy="95.1" r="1.26" fill-opacity="0.96"/><circle cx="504.8" cy="70.8" r="1.34" fill-opacity="0.63"/><circle cx="422.4" cy="83.3" r="1.38" fill-opacity="0.62"/><circle cx="507.8" cy="76.2" r="1.36" fill-opacity="0.97"/><circle cx="438.9" cy="99.3" r="1.21" fill-opacity="0.93"/><circle cx="505.8" cy="90.6" r="1.21" fill-opacity="0.86"/><circle cx="437.8" cy="96.1" r="1.32" fill-opacity="0.90"/><circle cx="428.9" cy="97.7" r="1.15" fill-opacity="0.94"/><circle cx="514.4" cy="24.9" r="1.20" fill-opacity="0.88"/><circle cx="503.1" cy="6.0" r="1.39" fill-opacity="0.82"/><circle cx="433.1" cy="92.1" r="1.39" fill-opacity="0.90"/><circle cx="513.5" cy="20.0" r="1.13" fill-opacity="0.64"/><circle cx="408.7" cy="73.1" r="1.12" fill-opacity="0.93"/><circle cx="484.0" cy="90.9" r="1.35" fill-opacity="0.78"/><circle cx="482.6" cy="101.0" r="1.43" fill-opacity="0.70"/><circle cx="511.3" cy="29.5" r="1.32" fill-opacity="0.88"/><circle cx="456.6" cy="91.6" r="1.27" fill-opacity="0.96"/><circle cx="435.6" cy="98.4" r="1.33" fill-opacity="0.84"/><circle cx="412.2" cy="81.5" r="1.19" fill-opacity="0.74"/><circle cx="467.3" cy="91.1" r="1.13" fill-opacity="0.78"/><circle cx="469.3" cy="97.8" r="1.24" fill-opacity="0.65"/><circle cx="456.9" cy="88.5" r="1.42" fill-opacity="0.74"/><circle cx="511.6" cy="61.6" r="1.42" fill-opacity="0.88"/><circle cx="512.7" cy="38.0" r="1.12" fill-opacity="0.60"/><circle cx="491.8" cy="96.4" r="1.36" fill-opacity="0.97"/><circle cx="509.0" cy="82.1" r="1.37" fill-opacity="0.98"/><circle cx="507.6" cy="66.8" r="1.29" fill-opacity="0.97"/><circle cx="432.0" cy="101.6" r="1.39" fill-opacity="0.89"/><circle cx="463.3" cy="93.0" r="1.11" fill-opacity="0.94"/><circle cx="510.4" cy="17.6" r="1.28" fill-opacity="0.97"/><circle cx="439.1" cy="105.1" r="1.34" fill-opacity="0.70"/><circle cx="424.9" cy="90.2" r="1.16" fill-opacity="0.61"/><circle cx="494.8" cy="92.2" r="1.35" fill-opacity="0.96"/><circle cx="426.2" cy="93.8" r="1.27" fill-opacity="0.83"/><circle cx="488.1" cy="98.8" r="1.42" fill-opacity="0.86"/><circle cx="425.2" cy="78.0" r="1.33" fill-opacity="0.82"/><circle cx="508.0" cy="3.2" r="1.38" fill-opacity="0.80"/><circle cx="508.4" cy="45.4" r="1.26" fill-opacity="0.64"/><circle cx="479.5" cy="100.3" r="1.42" fill-opacity="0.92"/><circle cx="421.0" cy="88.1" r="1.30" fill-opacity="0.81"/><circle cx="421.0" cy="94.5" r="1.45" fill-opacity="0.74"/><circle cx="509.8" cy="8.6" r="1.19" fill-opacity="0.69"/><circle cx="509.0" cy="20.9" r="1.37" fill-opacity="0.94"/><circle cx="507.5" cy="42.0" r="1.43" fill-opacity="0.79"/><circle cx="508.7" cy="52.2" r="1.13" fill-opacity="0.67"/><circle cx="435.1" cy="102.1" r="1.18" fill-opacity="1.00"/><circle cx="487.1" cy="91.9" r="1.37" fill-opacity="0.80"/><circle cx="511.5" cy="74.6" r="1.40" fill-opacity="0.61"/><circle cx="442.3" cy="102.5" r="1.15" fill-opacity="0.98"/><circle cx="510.8" cy="5.6" r="1.35" fill-opacity="0.89"/><circle cx="513.0" cy="51.2" r="1.20" fill-opacity="0.64"/><circle cx="506.2" cy="61.4" r="1.42" fill-opacity="0.61"/><circle cx="498.1" cy="96.9" r="1.30" fill-opacity="0.87"/><circle cx="498.3" cy="92.6" r="1.44" fill-opacity="0.93"/><circle cx="510.1" cy="78.5" r="1.34" fill-opacity="0.71"/><circle cx="510.1" cy="70.7" r="1.33" fill-opacity="0.67"/><circle cx="509.7" cy="0.7" r="1.39" fill-opacity="0.74"/><circle cx="511.7" cy="57.2" r="1.40" fill-opacity="0.67"/><circle cx="429.0" cy="103.6" r="1.44" fill-opacity="0.99"/><circle cx="466.1" cy="96.3" r="1.37" fill-opacity="0.69"/><circle cx="502.4" cy="93.5" r="1.30" fill-opacity="0.68"/><circle cx="511.8" cy="44.8" r="1.17" fill-opacity="0.74"/><circle cx="502.8" cy="89.5" r="1.28" fill-opacity="0.95"/><circle cx="509.9" cy="64.5" r="1.20" fill-opacity="0.85"/><circle cx="486.5" cy="102.8" r="1.43" fill-opacity="0.79"/><circle cx="511.7" cy="87.3" r="1.12" fill-opacity="0.86"/><circle cx="513.7" cy="67.0" r="1.14" fill-opacity="0.74"/><circle cx="478.2" cy="103.3" r="1.20" fill-opacity="0.62"/><circle cx="501.8" cy="82.9" r="1.37" fill-opacity="0.87"/><circle cx="515.0" cy="45.4" r="1.44" fill-opacity="0.73"/><circle cx="446.0" cy="107.2" r="1.32" fill-opacity="0.83"/><circle cx="446.3" cy="98.8" r="1.19" fill-opacity="0.83"/><circle cx="503.9" cy="67.8" r="1.34" fill-opacity="0.71"/><circle cx="504.7" cy="28.6" r="1.35" fill-opacity="0.66"/><circle cx="512.5" cy="41.7" r="1.17" fill-opacity="0.75"/><circle cx="512.6" cy="-1.4" r="1.40" fill-opacity="0.61"/><circle cx="410.5" cy="78.7" r="1.16" fill-opacity="0.60"/><circle cx="509.0" cy="95.1" r="1.37" fill-opacity="0.65"/><circle cx="453.7" cy="92.9" r="1.44" fill-opacity="0.61"/><circle cx="459.7" cy="93.9" r="1.11" fill-opacity="0.69"/><circle cx="501.3" cy="99.2" r="1.11" fill-opacity="0.84"/><circle cx="407.3" cy="76.1" r="1.38" fill-opacity="0.99"/><circle cx="510.4" cy="92.3" r="1.20" fill-opacity="0.69"/><circle cx="508.6" cy="88.3" r="1.24" fill-opacity="0.84"/><circle cx="429.4" cy="93.9" r="1.12" fill-opacity="0.95"/><circle cx="475.2" cy="102.2" r="1.43" fill-opacity="0.96"/><circle cx="512.9" cy="2.3" r="1.42" fill-opacity="0.88"/><circle cx="517.6" cy="53.2" r="1.24" fill-opacity="0.86"/><circle cx="406.1" cy="79.6" r="1.38" fill-opacity="0.94"/><circle cx="515.9" cy="49.5" r="1.25" fill-opacity="0.96"/><circle cx="469.9" cy="101.5" r="1.17" fill-opacity="0.62"/><circle cx="475.5" cy="99.0" r="1.42" fill-opacity="0.97"/><circle cx="509.3" cy="59.4" r="1.28" fill-opacity="0.65"/><circle cx="424.6" cy="99.0" r="1.38" fill-opacity="0.74"/><circle cx="452.4" cy="99.4" r="1.20" fill-opacity="0.98"/><circle cx="519.4" cy="24.6" r="1.35" fill-opacity="0.90"/><circle cx="461.1" cy="98.5" r="1.31" fill-opacity="0.77"/><circle cx="497.0" cy="100.2" r="1.12" fill-opacity="0.98"/><circle cx="456.9" cy="96.9" r="1.34" fill-opacity="0.80"/><circle cx="514.7" cy="74.3" r="1.37" fill-opacity="0.61"/><circle cx="489.0" cy="27.8" r="1.40" fill-opacity="0.90"/><circle cx="506.4" cy="98.4" r="1.23" fill-opacity="0.74"/><circle cx="459.9" cy="90.4" r="1.34" fill-opacity="0.84"/><circle cx="413.9" cy="84.8" r="1.40" fill-opacity="0.94"/><circle cx="503.4" cy="96.8" r="1.42" fill-opacity="0.79"/><circle cx="514.5" cy="92.8" r="1.27" fill-opacity="0.67"/><circle cx="455.4" cy="102.0" r="1.17" fill-opacity="0.74"/><circle cx="418.5" cy="91.2" r="1.26" fill-opacity="0.82"/><circle cx="518.8" cy="20.9" r="1.20" fill-opacity="0.62"/><circle cx="503.2" cy="-2.1" r="1.15" fill-opacity="0.71"/><circle cx="514.1" cy="6.3" r="1.30" fill-opacity="0.82"/><circle cx="472.9" cy="106.6" r="1.32" fill-opacity="0.98"/><circle cx="512.4" cy="97.0" r="1.44" fill-opacity="0.85"/><circle cx="512.0" cy="84.0" r="1.29" fill-opacity="0.95"/><circle cx="516.3" cy="88.6" r="1.12" fill-opacity="0.83"/><circle cx="464.6" cy="100.9" r="1.43" fill-opacity="0.99"/><circle cx="493.6" cy="99.5" r="1.22" fill-opacity="0.95"/><circle cx="509.9" cy="36.4" r="1.22" fill-opacity="0.91"/><circle cx="483.0" cy="104.8" r="1.27" fill-opacity="0.91"/><circle cx="476.3" cy="108.1" r="1.15" fill-opacity="0.64"/><circle cx="518.7" cy="42.0" r="1.18" fill-opacity="0.89"/><circle cx="446.3" cy="104.1" r="1.39" fill-opacity="0.84"/><circle cx="452.2" cy="104.0" r="1.14" fill-opacity="0.75"/><circle cx="515.8" cy="17.1" r="1.35" fill-opacity="0.62"/><circle cx="405.0" cy="73.8" r="1.19" fill-opacity="0.94"/><circle cx="516.3" cy="63.0" r="1.27" fill-opacity="0.99"/><circle cx="498.8" cy="103.1" r="1.14" fill-opacity="0.80"/><circle cx="515.7" cy="39.8" r="1.29" fill-opacity="0.62"/><circle cx="515.8" cy="-0.4" r="1.38" fill-opacity="0.98"/><circle cx="442.5" cy="107.2" r="1.29" fill-opacity="0.94"/><circle cx="430.8" cy="86.0" r="1.11" fill-opacity="0.60"/><circle cx="516.3" cy="59.1" r="1.36" fill-opacity="0.99"/><circle cx="515.5" cy="12.8" r="1.25" fill-opacity="0.80"/><circle cx="421.4" cy="98.0" r="1.32" fill-opacity="0.96"/><circle cx="522.2" cy="87.8" r="1.16" fill-opacity="0.64"/><circle cx="455.6" cy="106.4" r="1.33" fill-opacity="0.92"/><circle cx="465.3" cy="104.2" r="1.39" fill-opacity="0.69"/><circle cx="520.4" cy="13.9" r="1.31" fill-opacity="0.94"/><circle cx="504.4" cy="101.1" r="1.24" fill-opacity="0.65"/><circle cx="409.5" cy="85.2" r="1.17" fill-opacity="0.95"/><circle cx="515.6" cy="35.9" r="1.19" fill-opacity="0.61"/><circle cx="514.3" cy="54.6" r="1.44" fill-opacity="0.79"/><circle cx="511.5" cy="100.6" r="1.42" fill-opacity="0.85"/><circle cx="517.7" cy="85.2" r="1.36" fill-opacity="0.86"/><circle cx="423.7" cy="102.8" r="1.29" fill-opacity="0.83"/><circle cx="442.3" cy="112.1" r="1.16" fill-opacity="0.94"/><circle cx="526.6" cy="91.4" r="1.12" fill-opacity="0.62"/><circle cx="507.5" cy="72.5" r="1.29" fill-opacity="0.98"/><circle cx="514.7" cy="80.4" r="1.10" fill-opacity="0.98"/><circle cx="413.6" cy="88.1" r="1.33" fill-opacity="0.95"/><circle cx="521.6" cy="18.8" r="1.32" fill-opacity="0.90"/><circle cx="417.8" cy="87.7" r="1.18" fill-opacity="0.68"/><circle cx="506.1" cy="7.4" r="1.29" fill-opacity="0.67"/><circle cx="469.6" cy="104.7" r="1.27" fill-opacity="0.69"/><circle cx="516.2" cy="71.1" r="1.19" fill-opacity="0.94"/><circle cx="507.9" cy="102.1" r="1.44" fill-opacity="0.64"/><circle cx="519.8" cy="92.6" r="1.20" fill-opacity="0.75"/><circle cx="517.2" cy="31.4" r="1.13" fill-opacity="0.70"/><circle cx="519.4" cy="38.4" r="1.22" fill-opacity="0.98"/><circle cx="432.2" cy="98.2" r="1.45" fill-opacity="0.75"/><circle cx="514.6" cy="9.7" r="1.45" fill-opacity="0.73"/><circle cx="490.7" cy="101.0" r="1.23" fill-opacity="0.99"/><circle cx="518.4" cy="34.6" r="1.38" fill-opacity="0.66"/><circle cx="497.6" cy="106.1" r="1.11" fill-opacity="0.67"/><circle cx="449.8" cy="101.7" r="1.32" fill-opacity="0.67"/><circle cx="415.4" cy="93.2" r="1.17" fill-opacity="0.80"/><circle cx="427.1" cy="101.1" r="1.24" fill-opacity="0.85"/><circle cx="489.2" cy="105.9" r="1.18" fill-opacity="0.68"/><circle cx="502.2" cy="105.6" r="1.14" fill-opacity="0.74"/><circle cx="516.1" cy="100.5" r="1.15" fill-opacity="0.98"/><circle cx="420.3" cy="103.3" r="1.30" fill-opacity="0.82"/><circle cx="518.8" cy="79.9" r="1.41" fill-opacity="0.78"/><circle cx="483.8" cy="108.6" r="1.30" fill-opacity="0.91"/><circle cx="517.9" cy="67.7" r="1.25" fill-opacity="0.82"/><circle cx="520.3" cy="61.9" r="1.12" fill-opacity="0.61"/><circle cx="471.3" cy="111.0" r="1.12" fill-opacity="0.89"/><circle cx="405.4" cy="83.5" r="1.22" fill-opacity="0.76"/><circle cx="449.1" cy="105.5" r="1.27" fill-opacity="0.60"/><circle cx="467.6" cy="108.4" r="1.29" fill-opacity="0.63"/><circle cx="507.7" cy="-2.4" r="1.42" fill-opacity="0.61"/><circle cx="416.0" cy="81.6" r="1.23" fill-opacity="0.76"/><circle cx="519.3" cy="57.6" r="1.34" fill-opacity="0.80"/><circle cx="511.8" cy="105.3" r="1.30" fill-opacity="0.98"/><circle cx="458.9" cy="100.8" r="1.43" fill-opacity="0.63"/><circle cx="525.5" cy="17.4" r="1.12" fill-opacity="0.89"/><circle cx="517.3" cy="95.3" r="1.36" fill-opacity="0.97"/><circle cx="459.2" cy="106.6" r="1.16" fill-opacity="0.61"/><circle cx="454.4" cy="109.6" r="1.37" fill-opacity="0.68"/><circle cx="447.4" cy="112.3" r="1.28" fill-opacity="0.88"/><circle cx="521.4" cy="-0.9" r="1.42" fill-opacity="0.92"/><circle cx="492.3" cy="105.1" r="1.22" fill-opacity="0.64"/><circle cx="518.0" cy="3.5" r="1.20" fill-opacity="0.78"/><circle cx="501.7" cy="36.2" r="1.17" fill-opacity="0.78"/><circle cx="436.1" cy="107.3" r="1.25" fill-opacity="0.81"/><circle cx="524.7" cy="0.0" r="1.24" fill-opacity="0.76"/><circle cx="513.6" cy="32.0" r="1.21" fill-opacity="0.65"/><circle cx="512.9" cy="47.8" r="1.13" fill-opacity="0.69"/><circle cx="405.6" cy="87.7" r="1.20" fill-opacity="0.65"/><circle cx="462.1" cy="103.1" r="1.41" fill-opacity="1.00"/><circle cx="417.2" cy="99.7" r="1.22" fill-opacity="0.93"/><circle cx="449.7" cy="109.6" r="1.11" fill-opacity="0.98"/><circle cx="461.1" cy="109.1" r="1.23" fill-opacity="0.89"/><circle cx="505.1" cy="35.3" r="1.17" fill-opacity="0.85"/><circle cx="408.9" cy="88.3" r="1.15" fill-opacity="0.86"/><circle cx="522.4" cy="96.1" r="1.26" fill-opacity="0.75"/><circle cx="426.2" cy="106.2" r="1.18" fill-opacity="0.87"/><circle cx="480.7" cy="109.1" r="1.37" fill-opacity="0.68"/><circle cx="524.2" cy="20.7" r="1.35" fill-opacity="0.97"/><circle cx="524.6" cy="84.5" r="1.30" fill-opacity="0.67"/><circle cx="414.2" cy="103.0" r="1.26" fill-opacity="0.70"/><circle cx="415.9" cy="96.6" r="1.35" fill-opacity="0.78"/><circle cx="518.2" cy="28.0" r="1.39" fill-opacity="0.65"/><circle cx="529.8" cy="18.5" r="1.18" fill-opacity="0.82"/><circle cx="519.0" cy="10.5" r="1.33" fill-opacity="0.86"/><circle cx="514.8" cy="104.1" r="1.44" fill-opacity="0.87"/><circle cx="406.7" cy="91.6" r="1.44" fill-opacity="0.93"/><circle cx="529.1" cy="87.4" r="1.33" fill-opacity="0.78"/><circle cx="450.8" cy="112.6" r="1.39" fill-opacity="0.60"/><circle cx="475.0" cy="111.9" r="1.12" fill-opacity="0.89"/><circle cx="457.4" cy="110.9" r="1.32" fill-opacity="0.79"/><circle cx="522.0" cy="56.1" r="1.15" fill-opacity="0.67"/><circle cx="456.5" cy="114.3" r="1.12" fill-opacity="0.96"/><circle cx="520.8" cy="30.2" r="1.27" fill-opacity="0.88"/><circle cx="410.7" cy="91.1" r="1.30" fill-opacity="0.63"/><circle cx="518.2" cy="75.5" r="1.16" fill-opacity="0.99"/><circle cx="408.2" cy="82.1" r="1.33" fill-opacity="0.92"/><circle cx="524.2" cy="12.5" r="1.17" fill-opacity="0.94"/><circle cx="412.7" cy="100.1" r="1.14" fill-opacity="0.66"/><circle cx="423.7" cy="108.2" r="1.28" fill-opacity="0.77"/><circle cx="527.3" cy="25.3" r="1.38" fill-opacity="0.98"/><circle cx="410.4" cy="94.8" r="1.18" fill-opacity="0.97"/><circle cx="505.5" cy="94.1" r="1.21" fill-opacity="0.97"/><circle cx="505.8" cy="106.3" r="1.29" fill-opacity="0.74"/><circle cx="523.0" cy="24.1" r="1.32" fill-opacity="0.91"/><circle cx="528.5" cy="9.7" r="1.40" fill-opacity="0.66"/><circle cx="474.3" cy="116.8" r="1.24" fill-opacity="0.99"/><circle cx="529.6" cy="14.3" r="1.34" fill-opacity="0.86"/><circle cx="527.3" cy="30.8" r="1.22" fill-opacity="0.97"/><circle cx="530.7" cy="28.6" r="1.19" fill-opacity="0.76"/><circle cx="523.1" cy="4.1" r="1.23" fill-opacity="0.70"/><circle cx="520.7" cy="47.5" r="1.34" fill-opacity="0.80"/><circle cx="526.1" cy="34.8" r="1.43" fill-opacity="0.62"/><circle cx="426.6" cy="112.5" r="1.14" fill-opacity="0.82"/><circle cx="462.1" cy="114.7" r="1.20" fill-opacity="0.86"/><circle cx="498.8" cy="110.9" r="1.35" fill-opacity="0.78"/><circle cx="464.3" cy="107.6" r="1.12" fill-opacity="0.94"/><circle cx="423.2" cy="111.6" r="1.12" fill-opacity="0.81"/><circle cx="522.6" cy="81.6" r="1.20" fill-opacity="0.98"/><circle cx="522.8" cy="68.1" r="1.27" fill-opacity="0.75"/><circle cx="469.3" cy="117.0" r="1.19" fill-opacity="0.77"/><circle cx="522.0" cy="8.0" r="1.23" fill-opacity="0.80"/><circle cx="465.4" cy="118.7" r="1.30" fill-opacity="0.99"/><circle cx="450.9" cy="116.9" r="1.24" fill-opacity="0.92"/><circle cx="521.2" cy="51.1" r="1.21" fill-opacity="0.80"/><circle cx="482.9" cy="114.1" r="1.23" fill-opacity="0.69"/><circle cx="438.4" cy="109.5" r="1.34" fill-opacity="0.80"/><circle cx="525.3" cy="9.6" r="1.17" fill-opacity="0.61"/><circle cx="459.1" cy="119.7" r="1.32" fill-opacity="0.96"/><circle cx="418.3" cy="108.6" r="1.19" fill-opacity="0.69"/><circle cx="494.8" cy="109.7" r="1.26" fill-opacity="0.96"/><circle cx="519.6" cy="71.9" r="1.21" fill-opacity="0.85"/><circle cx="420.9" cy="115.0" r="1.41" fill-opacity="0.97"/><circle cx="523.3" cy="91.3" r="1.44" fill-opacity="0.87"/><circle cx="514.8" cy="108.5" r="1.36" fill-opacity="0.86"/><circle cx="524.1" cy="37.4" r="1.39" fill-opacity="0.66"/><circle cx="413.1" cy="111.9" r="1.26" fill-opacity="0.87"/><circle cx="495.2" cy="104.0" r="1.22" fill-opacity="0.83"/><circle cx="532.2" cy="86.3" r="1.11" fill-opacity="0.78"/><circle cx="502.6" cy="110.6" r="1.44" fill-opacity="0.77"/><circle cx="528.0" cy="2.9" r="1.26" fill-opacity="0.65"/><circle cx="524.2" cy="52.2" r="1.30" fill-opacity="0.63"/><circle cx="430.6" cy="115.0" r="1.33" fill-opacity="0.79"/><circle cx="465.3" cy="111.0" r="1.44" fill-opacity="0.60"/><circle cx="432.3" cy="107.4" r="1.38" fill-opacity="0.78"/><circle cx="524.7" cy="29.0" r="1.17" fill-opacity="0.72"/><circle cx="441.3" cy="116.0" r="1.20" fill-opacity="0.96"/><circle cx="447.0" cy="115.5" r="1.18" fill-opacity="0.66"/><circle cx="417.0" cy="113.0" r="1.23" fill-opacity="0.93"/><circle cx="514.3" cy="112.3" r="1.18" fill-opacity="0.94"/><circle cx="529.3" cy="36.7" r="1.20" fill-opacity="0.69"/><circle cx="466.0" cy="114.3" r="1.12" fill-opacity="0.67"/><circle cx="405.3" cy="96.9" r="1.21" fill-opacity="0.77"/><circle cx="513.2" cy="77.7" r="1.42" fill-opacity="0.69"/><circle cx="486.4" cy="110.4" r="1.26" fill-opacity="0.82"/><circle cx="482.8" cy="117.7" r="1.36" fill-opacity="0.66"/><circle cx="491.8" cy="111.8" r="1.16" fill-opacity="0.76"/><circle cx="486.0" cy="106.2" r="1.42" fill-opacity="0.77"/><circle cx="519.7" cy="100.1" r="1.43" fill-opacity="0.94"/><circle cx="518.1" cy="103.9" r="1.20" fill-opacity="0.84"/><circle cx="424.5" cy="116.9" r="1.42" fill-opacity="0.86"/><circle cx="429.7" cy="110.2" r="1.16" fill-opacity="0.83"/><circle cx="434.0" cy="113.2" r="1.13" fill-opacity="0.72"/><circle cx="468.9" cy="120.6" r="1.26" fill-opacity="0.77"/><circle cx="463.7" cy="123.5" r="1.17" fill-opacity="0.85"/><circle cx="428.2" cy="118.2" r="1.38" fill-opacity="0.86"/><circle cx="528.0" cy="21.8" r="1.18" fill-opacity="0.70"/><circle cx="537.6" cy="83.9" r="1.29" fill-opacity="0.77"/><circle cx="525.9" cy="62.6" r="1.24" fill-opacity="0.90"/><circle cx="523.5" cy="32.6" r="1.44" fill-opacity="0.72"/><circle cx="520.6" cy="65.9" r="1.40" fill-opacity="0.62"/><circle cx="535.6" cy="32.0" r="1.33" fill-opacity="0.91"/><circle cx="526.6" cy="69.3" r="1.28" fill-opacity="0.76"/><circle cx="531.3" cy="4.4" r="1.18" fill-opacity="0.98"/><circle cx="426.7" cy="123.5" r="1.18" fill-opacity="0.79"/><circle cx="529.6" cy="81.3" r="1.33" fill-opacity="0.94"/><circle cx="502.9" cy="114.1" r="1.37" fill-opacity="0.93"/><circle cx="532.0" cy="34.1" r="1.44" fill-opacity="0.98"/><circle cx="478.6" cy="111.9" r="1.13" fill-opacity="0.60"/><circle cx="518.3" cy="7.4" r="1.39" fill-opacity="0.85"/><circle cx="426.7" cy="109.2" r="1.38" fill-opacity="0.79"/><circle cx="514.8" cy="28.7" r="1.32" fill-opacity="0.92"/><circle cx="538.0" cy="87.2" r="1.33" fill-opacity="0.67"/><circle cx="416.9" cy="104.8" r="1.44" fill-opacity="0.75"/><circle cx="418.6" cy="118.8" r="1.43" fill-opacity="0.68"/><circle cx="527.0" cy="58.8" r="1.19" fill-opacity="0.68"/><circle cx="536.6" cy="29.0" r="1.44" fill-opacity="0.79"/><circle cx="455.8" cy="119.4" r="1.39" fill-opacity="0.85"/><circle cx="444.7" cy="117.6" r="1.27" fill-opacity="0.75"/><circle cx="408.3" cy="97.7" r="1.26" fill-opacity="0.84"/><circle cx="525.7" cy="79.4" r="1.33" fill-opacity="0.75"/><circle cx="437.9" cy="116.9" r="1.33" fill-opacity="0.86"/><circle cx="488.1" cy="116.1" r="1.13" fill-opacity="0.88"/><circle cx="439.2" cy="112.7" r="1.37" fill-opacity="0.92"/><circle cx="532.9" cy="81.2" r="1.40" fill-opacity="0.84"/><circle cx="520.2" cy="109.0" r="1.19" fill-opacity="0.88"/><circle cx="533.8" cy="23.2" r="1.15" fill-opacity="0.62"/><circle cx="405.9" cy="102.0" r="1.43" fill-opacity="0.63"/><circle cx="409.1" cy="105.4" r="1.14" fill-opacity="0.76"/><circle cx="412.4" cy="105.5" r="1.44" fill-opacity="0.64"/><circle cx="540.1" cy="34.0" r="1.23" fill-opacity="0.70"/><circle cx="415.7" cy="117.3" r="1.15" fill-opacity="0.63"/><circle cx="479.1" cy="116.2" r="1.44" fill-opacity="0.75"/><circle cx="491.0" cy="120.4" r="1.28" fill-opacity="0.89"/><circle cx="523.0" cy="63.8" r="1.31" fill-opacity="0.79"/><circle cx="533.7" cy="36.7" r="1.41" fill-opacity="0.65"/><circle cx="523.7" cy="76.6" r="1.44" fill-opacity="0.66"/><circle cx="525.0" cy="73.8" r="1.26" fill-opacity="0.68"/><circle cx="528.2" cy="94.3" r="1.26" fill-opacity="0.86"/><circle cx="466.7" cy="128.6" r="1.38" fill-opacity="0.76"/><circle cx="540.3" cy="29.2" r="1.35" fill-opacity="0.83"/><circle cx="528.5" cy="66.3" r="1.35" fill-opacity="0.82"/><circle cx="440.6" cy="119.6" r="1.14" fill-opacity="0.84"/><circle cx="506.4" cy="112.5" r="1.31" fill-opacity="0.72"/><circle cx="509.1" cy="107.6" r="1.45" fill-opacity="0.76"/><circle cx="496.0" cy="115.2" r="1.32" fill-opacity="0.73"/><circle cx="528.1" cy="75.8" r="1.30" fill-opacity="0.70"/><circle cx="539.1" cy="39.8" r="1.29" fill-opacity="0.79"/><circle cx="414.6" cy="108.2" r="1.40" fill-opacity="0.98"/><circle cx="433.0" cy="120.1" r="1.22" fill-opacity="0.76"/><circle cx="530.3" cy="71.9" r="1.33" fill-opacity="0.90"/><circle cx="532.5" cy="8.2" r="1.12" fill-opacity="0.89"/><circle cx="491.2" cy="108.7" r="1.44" fill-opacity="0.75"/><circle cx="464.1" cy="131.4" r="1.43" fill-opacity="0.80"/><circle cx="496.4" cy="122.7" r="1.26" fill-opacity="0.75"/><circle cx="500.0" cy="116.5" r="1.11" fill-opacity="0.92"/><circle cx="491.9" cy="117.1" r="1.18" fill-opacity="0.61"/><circle cx="533.5" cy="2.1" r="1.16" fill-opacity="0.65"/><circle cx="510.6" cy="111.1" r="1.27" fill-opacity="0.63"/><circle cx="525.4" cy="65.8" r="1.27" fill-opacity="0.62"/><circle cx="448.1" cy="118.6" r="1.25" fill-opacity="0.85"/><circle cx="522.1" cy="27.2" r="1.16" fill-opacity="0.89"/><circle cx="542.8" cy="32.1" r="1.12" fill-opacity="0.63"/><circle cx="505.8" cy="118.0" r="1.20" fill-opacity="0.88"/><circle cx="525.3" cy="55.1" r="1.37" fill-opacity="0.80"/><circle cx="433.7" cy="116.6" r="1.26" fill-opacity="0.67"/><circle cx="534.9" cy="88.5" r="1.19" fill-opacity="0.71"/><circle cx="420.8" cy="106.6" r="1.42" fill-opacity="0.82"/><circle cx="486.4" cy="121.6" r="1.16" fill-opacity="0.94"/><circle cx="420.1" cy="111.3" r="1.41" fill-opacity="0.87"/><circle cx="523.5" cy="59.4" r="1.11" fill-opacity="0.71"/><circle cx="530.7" cy="23.9" r="1.10" fill-opacity="0.98"/><circle cx="531.5" cy="90.6" r="1.17" fill-opacity="0.71"/><circle cx="468.3" cy="125.8" r="1.20" fill-opacity="0.92"/><circle cx="451.7" cy="123.2" r="1.33" fill-opacity="0.82"/><circle cx="489.4" cy="127.1" r="1.25" fill-opacity="0.68"/><circle cx="444.7" cy="122.4" r="1.17" fill-opacity="0.61"/><circle cx="430.5" cy="123.7" r="1.11" fill-opacity="0.74"/><circle cx="470.6" cy="129.0" r="1.35" fill-opacity="0.99"/><circle cx="523.1" cy="40.6" r="1.40" fill-opacity="0.73"/><circle cx="544.9" cy="34.4" r="1.22" fill-opacity="0.96"/><circle cx="525.5" cy="88.0" r="1.18" fill-opacity="0.61"/><circle cx="411.8" cy="115.7" r="1.16" fill-opacity="0.61"/><circle cx="525.0" cy="101.0" r="1.24" fill-opacity="0.62"/><circle cx="530.4" cy="56.2" r="1.13" fill-opacity="0.70"/><circle cx="433.3" cy="125.5" r="1.27" fill-opacity="0.65"/><circle cx="524.1" cy="44.7" r="1.39" fill-opacity="0.82"/><circle cx="436.6" cy="123.8" r="1.18" fill-opacity="0.73"/><circle cx="549.6" cy="37.9" r="1.35" fill-opacity="0.63"/><circle cx="440.7" cy="124.8" r="1.18" fill-opacity="0.95"/><circle cx="529.6" cy="0.1" r="1.34" fill-opacity="0.83"/><circle cx="522.0" cy="106.3" r="1.32" fill-opacity="0.78"/><circle cx="478.9" cy="106.4" r="1.23" fill-opacity="0.75"/><circle cx="551.2" cy="32.0" r="1.29" fill-opacity="1.00"/><circle cx="523.1" cy="113.0" r="1.34" fill-opacity="0.82"/><circle cx="537.4" cy="36.1" r="1.45" fill-opacity="0.89"/><circle cx="521.1" cy="84.9" r="1.18" fill-opacity="0.80"/><circle cx="528.4" cy="49.3" r="1.24" fill-opacity="0.76"/><circle cx="526.0" cy="6.5" r="1.37" fill-opacity="0.71"/><circle cx="415.9" cy="121.8" r="1.19" fill-opacity="0.72"/><circle cx="436.5" cy="127.7" r="1.28" fill-opacity="0.78"/><circle cx="509.6" cy="116.8" r="1.26" fill-opacity="0.66"/><circle cx="536.4" cy="92.4" r="1.10" fill-opacity="0.65"/><circle cx="534.8" cy="5.2" r="1.33" fill-opacity="0.99"/><circle cx="536.8" cy="2.1" r="1.33" fill-opacity="0.64"/><circle cx="518.1" cy="113.0" r="1.15" fill-opacity="0.86"/><circle cx="532.2" cy="58.8" r="1.33" fill-opacity="0.79"/><circle cx="429.2" cy="128.1" r="1.17" fill-opacity="0.86"/><circle cx="458.9" cy="123.0" r="1.40" fill-opacity="0.84"/><circle cx="524.7" cy="109.9" r="1.35" fill-opacity="0.83"/><circle cx="533.0" cy="18.8" r="1.18" fill-opacity="0.73"/><circle cx="472.5" cy="124.0" r="1.10" fill-opacity="0.68"/><circle cx="503.2" cy="120.0" r="1.31" fill-opacity="0.76"/><circle cx="537.4" cy="-1.6" r="1.15" fill-opacity="0.99"/><circle cx="527.7" cy="84.2" r="1.16" fill-opacity="0.84"/><circle cx="407.4" cy="113.4" r="1.41" fill-opacity="0.63"/><circle cx="468.4" cy="132.2" r="1.14" fill-opacity="0.70"/><circle cx="423.8" cy="120.2" r="1.20" fill-opacity="0.85"/><circle cx="420.4" cy="121.7" r="1.26" fill-opacity="0.85"/><circle cx="525.8" cy="96.3" r="1.36" fill-opacity="0.96"/><circle cx="451.8" cy="120.0" r="1.31" fill-opacity="0.71"/><circle cx="412.1" cy="121.1" r="1.30" fill-opacity="0.61"/><circle cx="522.9" cy="71.4" r="1.27" fill-opacity="0.74"/><circle cx="528.3" cy="53.2" r="1.32" fill-opacity="0.76"/><circle cx="409.6" cy="119.3" r="1.11" fill-opacity="0.99"/><circle cx="409.7" cy="102.3" r="1.24" fill-opacity="0.62"/><circle cx="448.8" cy="125.2" r="1.40" fill-opacity="0.93"/><circle cx="531.8" cy="62.1" r="1.28" fill-opacity="0.89"/><circle cx="454.5" cy="127.3" r="1.33" fill-opacity="0.86"/><circle cx="448.6" cy="122.1" r="1.28" fill-opacity="0.96"/><circle cx="504.3" cy="122.9" r="1.22" fill-opacity="0.61"/><circle cx="530.9" cy="77.4" r="1.15" fill-opacity="0.66"/><circle cx="432.3" cy="128.9" r="1.15" fill-opacity="0.76"/><circle cx="532.5" cy="40.0" r="1.32" fill-opacity="0.74"/><circle cx="493.2" cy="122.9" r="1.22" fill-opacity="0.84"/><circle cx="530.6" cy="44.0" r="1.44" fill-opacity="0.90"/><circle cx="525.5" cy="48.1" r="1.17" fill-opacity="0.65"/><circle cx="475.7" cy="122.3" r="1.14" fill-opacity="0.95"/><circle cx="486.3" cy="125.8" r="1.30" fill-opacity="0.98"/><circle cx="536.2" cy="54.9" r="1.38" fill-opacity="0.78"/><circle cx="531.6" cy="98.6" r="1.26" fill-opacity="0.96"/><circle cx="528.6" cy="41.4" r="1.37" fill-opacity="0.90"/><circle cx="476.9" cy="119.4" r="1.22" fill-opacity="0.75"/><circle cx="481.9" cy="123.6" r="1.19" fill-opacity="0.82"/><circle cx="546.1" cy="38.4" r="1.43" fill-opacity="0.79"/><circle cx="463.0" cy="127.1" r="1.38" fill-opacity="0.91"/><circle cx="532.5" cy="74.1" r="1.10" fill-opacity="0.81"/><circle cx="410.1" cy="108.9" r="1.42" fill-opacity="0.78"/><circle cx="464.9" cy="134.5" r="1.36" fill-opacity="0.89"/><circle cx="534.7" cy="69.4" r="1.15" fill-opacity="0.71"/><circle cx="527.3" cy="106.3" r="1.18" fill-opacity="0.64"/><circle cx="533.5" cy="94.2" r="1.16" fill-opacity="0.63"/><circle cx="455.0" cy="122.4" r="1.25" fill-opacity="0.95"/><circle cx="534.0" cy="15.4" r="1.13" fill-opacity="1.00"/><circle cx="534.3" cy="52.3" r="1.39" fill-opacity="0.65"/><circle cx="534.5" cy="26.7" r="1.42" fill-opacity="0.80"/><circle cx="405.4" cy="107.6" r="1.17" fill-opacity="0.79"/><circle cx="423.9" cy="125.2" r="1.43" fill-opacity="1.00"/><circle cx="492.7" cy="126.9" r="1.24" fill-opacity="0.86"/><circle cx="459.1" cy="126.2" r="1.43" fill-opacity="0.79"/><circle cx="542.7" cy="43.2" r="1.38" fill-opacity="0.81"/><circle cx="488.5" cy="131.5" r="1.13" fill-opacity="0.62"/><circle cx="513.7" cy="118.7" r="1.15" fill-opacity="0.95"/><circle cx="469.5" cy="137.3" r="1.39" fill-opacity="0.71"/><circle cx="540.1" cy="1.5" r="1.28" fill-opacity="0.67"/><circle cx="499.5" cy="124.7" r="1.45" fill-opacity="0.75"/><circle cx="496.1" cy="118.4" r="1.15" fill-opacity="0.89"/><circle cx="472.4" cy="139.4" r="1.25" fill-opacity="0.89"/><circle cx="500.2" cy="129.1" r="1.19" fill-opacity="0.91"/><circle cx="443.4" cy="127.1" r="1.19" fill-opacity="0.74"/><circle cx="411.1" cy="124.6" r="1.44" fill-opacity="0.81"/><circle cx="533.6" cy="43.0" r="1.25" fill-opacity="0.61"/><circle cx="505.5" cy="130.7" r="1.40" fill-opacity="0.66"/><circle cx="532.0" cy="48.1" r="1.12" fill-opacity="0.68"/><circle cx="531.5" cy="68.1" r="1.42" fill-opacity="0.99"/><circle cx="406.3" cy="117.9" r="1.36" fill-opacity="0.80"/><circle cx="537.7" cy="24.3" r="1.37" fill-opacity="0.79"/><circle cx="451.2" cy="127.5" r="1.30" fill-opacity="0.83"/><circle cx="429.5" cy="132.8" r="1.22" fill-opacity="0.91"/><circle cx="534.1" cy="64.2" r="1.26" fill-opacity="0.93"/><circle cx="517.7" cy="120.4" r="1.28" fill-opacity="0.91"/><circle cx="436.6" cy="133.2" r="1.11" fill-opacity="0.71"/><circle cx="543.2" cy="39.6" r="1.24" fill-opacity="0.92"/><circle cx="529.4" cy="102.4" r="1.18" fill-opacity="0.72"/><circle cx="536.3" cy="79.1" r="1.30" fill-opacity="0.61"/><circle cx="541.3" cy="25.9" r="1.28" fill-opacity="0.80"/><circle cx="537.6" cy="73.4" r="1.41" fill-opacity="0.62"/><circle cx="437.3" cy="120.8" r="1.40" fill-opacity="0.71"/><circle cx="532.9" cy="11.8" r="1.30" fill-opacity="0.65"/><circle cx="432.7" cy="133.8" r="1.11" fill-opacity="0.74"/><circle cx="496.2" cy="127.8" r="1.30" fill-opacity="0.61"/><circle cx="479.0" cy="122.1" r="1.16" fill-opacity="0.93"/><circle cx="546.1" cy="43.0" r="1.29" fill-opacity="0.71"/><circle cx="429.5" cy="137.7" r="1.32" fill-opacity="0.88"/><circle cx="481.9" cy="127.9" r="1.14" fill-opacity="0.93"/><circle cx="447.2" cy="128.8" r="1.19" fill-opacity="0.94"/><circle cx="492.2" cy="131.1" r="1.39" fill-opacity="0.64"/><circle cx="504.8" cy="133.7" r="1.32" fill-opacity="0.72"/><circle cx="537.3" cy="96.8" r="1.25" fill-opacity="0.71"/><circle cx="453.2" cy="132.8" r="1.12" fill-opacity="0.93"/><circle cx="510.8" cy="133.1" r="1.32" fill-opacity="0.67"/><circle cx="438.5" cy="136.0" r="1.32" fill-opacity="0.85"/><circle cx="548.7" cy="29.8" r="1.13" fill-opacity="0.97"/><circle cx="510.4" cy="120.8" r="1.33" fill-opacity="0.70"/><circle cx="432.8" cy="137.9" r="1.26" fill-opacity="0.83"/><circle cx="527.3" cy="44.9" r="1.35" fill-opacity="0.78"/><circle cx="536.2" cy="47.0" r="1.19" fill-opacity="0.88"/><circle cx="521.3" cy="35.8" r="1.41" fill-opacity="0.68"/><circle cx="531.8" cy="-2.1" r="1.41" fill-opacity="0.84"/><circle cx="426.5" cy="133.9" r="1.36" fill-opacity="0.60"/><circle cx="483.4" cy="120.9" r="1.45" fill-opacity="0.84"/><circle cx="541.2" cy="70.5" r="1.40" fill-opacity="0.74"/><circle cx="430.4" cy="141.1" r="1.16" fill-opacity="0.77"/><circle cx="536.2" cy="20.5" r="1.39" fill-opacity="0.73"/><circle cx="496.0" cy="131.8" r="1.12" fill-opacity="0.67"/><circle cx="414.4" cy="124.9" r="1.27" fill-opacity="0.81"/><circle cx="513.7" cy="123.4" r="1.38" fill-opacity="0.76"/><circle cx="473.3" cy="119.8" r="1.15" fill-opacity="0.83"/><circle cx="407.3" cy="110.2" r="1.36" fill-opacity="0.73"/><circle cx="535.0" cy="61.0" r="1.16" fill-opacity="0.70"/><circle cx="466.2" cy="139.6" r="1.22" fill-opacity="0.92"/><circle cx="423.9" cy="129.0" r="1.30" fill-opacity="0.82"/><circle cx="419.5" cy="125.7" r="1.25" fill-opacity="0.76"/><circle cx="541.9" cy="36.6" r="1.42" fill-opacity="0.85"/><circle cx="549.1" cy="41.1" r="1.37" fill-opacity="0.61"/><circle cx="545.5" cy="29.2" r="1.15" fill-opacity="0.76"/><circle cx="460.4" cy="134.0" r="1.24" fill-opacity="0.65"/><circle cx="541.0" cy="47.5" r="1.41" fill-opacity="0.86"/><circle cx="478.7" cy="127.2" r="1.37" fill-opacity="0.86"/><circle cx="498.8" cy="133.3" r="1.40" fill-opacity="0.87"/><circle cx="409.0" cy="128.5" r="1.34" fill-opacity="0.97"/><circle cx="531.1" cy="51.8" r="1.28" fill-opacity="0.83"/><circle cx="547.9" cy="46.2" r="1.40" fill-opacity="0.64"/><circle cx="406.5" cy="121.7" r="1.44" fill-opacity="0.81"/><circle cx="538.2" cy="8.2" r="1.28" fill-opacity="0.70"/><circle cx="541.5" cy="21.6" r="1.24" fill-opacity="0.86"/><circle cx="551.3" cy="43.8" r="1.27" fill-opacity="0.99"/><circle cx="535.3" cy="75.7" r="1.25" fill-opacity="0.91"/><circle cx="457.0" cy="132.6" r="1.25" fill-opacity="0.72"/><circle cx="532.1" cy="108.0" r="1.43" fill-opacity="0.98"/><circle cx="407.9" cy="125.4" r="1.37" fill-opacity="0.80"/><circle cx="541.7" cy="81.5" r="1.20" fill-opacity="0.86"/><circle cx="405.1" cy="129.2" r="1.18" fill-opacity="0.96"/><circle cx="539.7" cy="77.4" r="1.14" fill-opacity="0.91"/><circle cx="537.0" cy="67.3" r="1.39" fill-opacity="0.62"/><circle cx="548.2" cy="34.6" r="1.35" fill-opacity="0.84"/><circle cx="550.1" cy="48.9" r="1.10" fill-opacity="0.94"/><circle cx="460.4" cy="138.7" r="1.40" fill-opacity="0.82"/><circle cx="472.5" cy="133.4" r="1.16" fill-opacity="0.91"/><circle cx="476.9" cy="94.3" r="1.42" fill-opacity="0.77"/><circle cx="544.8" cy="77.1" r="1.42" fill-opacity="0.81"/><circle cx="528.3" cy="98.8" r="1.14" fill-opacity="0.69"/><circle cx="548.3" cy="54.4" r="1.18" fill-opacity="0.83"/><circle cx="486.3" cy="135.8" r="1.22" fill-opacity="0.70"/><circle cx="489.8" cy="134.9" r="1.17" fill-opacity="0.64"/><circle cx="544.4" cy="65.8" r="1.41" fill-opacity="0.98"/><circle cx="512.5" cy="115.3" r="1.25" fill-opacity="0.98"/><circle cx="537.8" cy="16.0" r="1.38" fill-opacity="0.91"/><circle cx="503.9" cy="128.0" r="1.10" fill-opacity="0.73"/><circle cx="418.6" cy="131.2" r="1.17" fill-opacity="0.77"/><circle cx="412.2" cy="128.9" r="1.17" fill-opacity="0.67"/><circle cx="538.9" cy="64.3" r="1.29" fill-opacity="0.79"/><circle cx="462.7" cy="120.5" r="1.40" fill-opacity="0.90"/><circle cx="546.3" cy="25.3" r="1.17" fill-opacity="0.61"/><circle cx="538.6" cy="50.7" r="1.36" fill-opacity="0.92"/><circle cx="541.2" cy="73.9" r="1.28" fill-opacity="0.77"/><circle cx="546.4" cy="72.9" r="1.20" fill-opacity="0.67"/><circle cx="476.2" cy="130.0" r="1.13" fill-opacity="0.82"/><circle cx="528.8" cy="112.8" r="1.12" fill-opacity="0.83"/><circle cx="500.5" cy="136.4" r="1.33" fill-opacity="0.82"/><circle cx="537.8" cy="42.7" r="1.17" fill-opacity="0.69"/><circle cx="544.4" cy="48.8" r="1.38" fill-opacity="0.77"/><circle cx="504.9" cy="136.9" r="1.17" fill-opacity="0.93"/><circle cx="460.3" cy="143.0" r="1.18" fill-opacity="0.73"/><circle cx="443.8" cy="130.7" r="1.41" fill-opacity="0.99"/><circle cx="547.3" cy="51.3" r="1.20" fill-opacity="0.78"/><circle cx="538.7" cy="58.2" r="1.37" fill-opacity="0.88"/><circle cx="420.4" cy="134.0" r="1.40" fill-opacity="0.86"/><circle cx="520.4" cy="118.4" r="1.34" fill-opacity="0.89"/><circle cx="549.9" cy="26.0" r="1.16" fill-opacity="0.93"/><circle cx="541.3" cy="55.4" r="1.23" fill-opacity="0.98"/><circle cx="550.8" cy="71.3" r="1.36" fill-opacity="0.76"/><circle cx="544.9" cy="22.4" r="1.11" fill-opacity="0.70"/><circle cx="536.9" cy="109.7" r="1.18" fill-opacity="0.69"/><circle cx="450.5" cy="130.8" r="1.28" fill-opacity="0.66"/><circle cx="494.9" cy="136.0" r="1.13" fill-opacity="0.70"/><circle cx="507.8" cy="127.2" r="1.17" fill-opacity="0.91"/><circle cx="540.6" cy="18.3" r="1.38" fill-opacity="0.64"/><circle cx="542.0" cy="51.3" r="1.26" fill-opacity="0.88"/><circle cx="544.4" cy="70.0" r="1.15" fill-opacity="0.61"/><circle cx="405.0" cy="132.4" r="1.41" fill-opacity="0.96"/><circle cx="549.2" cy="21.6" r="1.17" fill-opacity="0.79"/><circle cx="439.7" cy="130.2" r="1.19" fill-opacity="0.91"/><circle cx="516.7" cy="116.4" r="1.19" fill-opacity="0.81"/><circle cx="532.8" cy="101.6" r="1.11" fill-opacity="0.87"/><circle cx="533.2" cy="111.1" r="1.26" fill-opacity="0.76"/><circle cx="539.7" cy="90.6" r="1.35" fill-opacity="0.87"/><circle cx="444.8" cy="134.0" r="1.30" fill-opacity="0.68"/><circle cx="541.2" cy="85.5" r="1.39" fill-opacity="0.63"/><circle cx="499.0" cy="139.7" r="1.22" fill-opacity="0.65"/><circle cx="544.9" cy="54.2" r="1.20" fill-opacity="0.99"/><circle cx="484.9" cy="130.5" r="1.13" fill-opacity="0.99"/><circle cx="414.2" cy="131.6" r="1.31" fill-opacity="0.95"/><circle cx="540.5" cy="95.6" r="1.20" fill-opacity="0.79"/><circle cx="546.8" cy="63.1" r="1.25" fill-opacity="0.79"/><circle cx="547.9" cy="68.3" r="1.43" fill-opacity="0.74"/><circle cx="535.3" cy="106.5" r="1.23" fill-opacity="0.92"/><circle cx="538.0" cy="5.1" r="1.41" fill-opacity="0.87"/><circle cx="548.4" cy="59.9" r="1.31" fill-opacity="0.78"/><circle cx="501.5" cy="142.2" r="1.26" fill-opacity="0.75"/><circle cx="539.9" cy="101.5" r="1.24" fill-opacity="0.83"/><circle cx="420.6" cy="128.6" r="1.17" fill-opacity="0.83"/><circle cx="523.5" cy="116.8" r="1.35" fill-opacity="0.81"/><circle cx="543.5" cy="62.2" r="1.32" fill-opacity="0.63"/><circle cx="459.6" cy="130.6" r="1.16" fill-opacity="0.81"/><circle cx="539.9" cy="61.1" r="1.28" fill-opacity="0.94"/><circle cx="539.9" cy="12.5" r="1.21" fill-opacity="0.89"/><circle cx="535.9" cy="114.4" r="1.25" fill-opacity="0.96"/><circle cx="435.4" cy="142.1" r="1.22" fill-opacity="0.69"/><circle cx="507.6" cy="123.5" r="1.28" fill-opacity="0.89"/><circle cx="458.1" cy="136.3" r="1.23" fill-opacity="0.61"/><circle cx="408.3" cy="135.7" r="1.35" fill-opacity="0.93"/><circle cx="447.9" cy="132.9" r="1.35" fill-opacity="0.76"/><circle cx="541.9" cy="113.1" r="1.38" fill-opacity="0.69"/><circle cx="423.3" cy="138.9" r="1.19" fill-opacity="0.81"/><circle cx="438.2" cy="139.7" r="1.18" fill-opacity="0.79"/><circle cx="468.7" cy="143.9" r="1.24" fill-opacity="0.75"/><circle cx="477.3" cy="135.4" r="1.39" fill-opacity="0.95"/><circle cx="499.4" cy="121.1" r="1.24" fill-opacity="0.84"/><circle cx="526.6" cy="117.6" r="1.20" fill-opacity="0.92"/><circle cx="498.4" cy="143.4" r="1.41" fill-opacity="0.78"/><circle cx="533.2" cy="116.7" r="1.38" fill-opacity="0.87"/><circle cx="508.1" cy="138.2" r="1.36" fill-opacity="0.82"/><circle cx="416.4" cy="134.5" r="1.14" fill-opacity="0.68"/><circle cx="504.2" cy="140.0" r="1.45" fill-opacity="0.97"/><circle cx="543.8" cy="58.7" r="1.43" fill-opacity="0.61"/><circle cx="513.3" cy="127.3" r="1.37" fill-opacity="0.64"/><circle cx="442.2" cy="137.1" r="1.45" fill-opacity="0.88"/><circle cx="551.3" cy="66.0" r="1.27" fill-opacity="0.71"/><circle cx="541.8" cy="7.9" r="1.10" fill-opacity="0.94"/><circle cx="551.1" cy="52.9" r="1.17" fill-opacity="0.95"/><circle cx="444.0" cy="140.0" r="1.22" fill-opacity="0.68"/><circle cx="550.2" cy="75.9" r="1.33" fill-opacity="0.65"/><circle cx="551.3" cy="61.4" r="1.11" fill-opacity="0.81"/><circle cx="514.2" cy="137.8" r="1.20" fill-opacity="0.95"/><circle cx="518.0" cy="129.9" r="1.40" fill-opacity="0.83"/><circle cx="447.9" cy="136.8" r="1.38" fill-opacity="0.80"/><circle cx="427.3" cy="130.6" r="1.16" fill-opacity="0.64"/><circle cx="441.4" cy="142.1" r="1.29" fill-opacity="0.85"/><circle cx="449.1" cy="139.8" r="1.33" fill-opacity="0.66"/><circle cx="545.2" cy="82.3" r="1.19" fill-opacity="0.64"/><circle cx="548.0" cy="78.3" r="1.44" fill-opacity="0.64"/><circle cx="543.6" cy="93.0" r="1.34" fill-opacity="0.95"/><circle cx="405.7" cy="138.5" r="1.21" fill-opacity="0.78"/><circle cx="523.1" cy="122.2" r="1.33" fill-opacity="0.94"/><circle cx="423.4" cy="132.4" r="1.42" fill-opacity="0.68"/><circle cx="441.7" cy="133.0" r="1.15" fill-opacity="0.62"/><circle cx="544.3" cy="99.9" r="1.38" fill-opacity="0.86"/><circle cx="541.4" cy="66.9" r="1.33" fill-opacity="0.71"/><circle cx="543.9" cy="88.7" r="1.18" fill-opacity="0.93"/><circle cx="528.9" cy="108.9" r="1.19" fill-opacity="0.82"/><circle cx="479.7" cy="131.3" r="1.13" fill-opacity="0.62"/><circle cx="546.8" cy="97.4" r="1.34" fill-opacity="0.85"/><circle cx="501.7" cy="131.9" r="1.24" fill-opacity="0.76"/><circle cx="509.7" cy="130.2" r="1.23" fill-opacity="0.95"/><circle cx="536.6" cy="102.2" r="1.28" fill-opacity="0.65"/><circle cx="527.7" cy="123.3" r="1.34" fill-opacity="0.65"/><circle cx="537.8" cy="117.6" r="1.37" fill-opacity="0.97"/><circle cx="540.3" cy="105.4" r="1.22" fill-opacity="0.91"/><circle cx="492.5" cy="143.9" r="1.25" fill-opacity="0.83"/><circle cx="489.2" cy="123.8" r="1.10" fill-opacity="0.61"/><circle cx="550.4" cy="57.1" r="1.35" fill-opacity="0.96"/><circle cx="551.4" cy="81.3" r="1.26" fill-opacity="0.74"/><circle cx="490.0" cy="138.9" r="1.13" fill-opacity="0.95"/><circle cx="548.8" cy="102.7" r="1.27" fill-opacity="0.94"/><circle cx="536.5" cy="12.5" r="1.20" fill-opacity="0.67"/><circle cx="427.3" cy="140.0" r="1.33" fill-opacity="0.61"/><circle cx="494.7" cy="140.4" r="1.44" fill-opacity="0.80"/><circle cx="547.2" cy="17.1" r="1.42" fill-opacity="0.87"/><circle cx="411.2" cy="133.8" r="1.36" fill-opacity="0.96"/><circle cx="415.9" cy="128.5" r="1.20" fill-opacity="0.93"/><circle cx="514.7" cy="131.5" r="1.38" fill-opacity="0.92"/><circle cx="544.1" cy="103.7" r="1.31" fill-opacity="0.64"/><circle cx="418.0" cy="138.9" r="1.37" fill-opacity="0.71"/><circle cx="454.7" cy="141.8" r="1.20" fill-opacity="0.79"/><circle cx="548.5" cy="85.7" r="1.14" fill-opacity="0.97"/><circle cx="426.9" cy="143.6" r="1.17" fill-opacity="0.74"/><circle cx="543.2" cy="108.0" r="1.43" fill-opacity="0.92"/><circle cx="474.2" cy="136.4" r="1.16" fill-opacity="0.96"/><circle cx="506.3" cy="144.1" r="1.12" fill-opacity="0.91"/><circle cx="438.4" cy="143.9" r="1.15" fill-opacity="0.90"/><circle cx="408.2" cy="143.1" r="1.12" fill-opacity="0.84"/><circle cx="543.1" cy="14.2" r="1.24" fill-opacity="0.96"/><circle cx="545.2" cy="85.4" r="1.45" fill-opacity="0.63"/><circle cx="425.9" cy="137.0" r="1.13" fill-opacity="0.98"/><circle cx="479.0" cy="138.4" r="1.12" fill-opacity="0.91"/><circle cx="482.7" cy="135.9" r="1.11" fill-opacity="0.71"/><circle cx="423.2" cy="144.3" r="1.38" fill-opacity="0.65"/><circle cx="532.7" cy="104.9" r="1.38" fill-opacity="0.94"/><circle cx="516.9" cy="124.0" r="1.42" fill-opacity="0.92"/><circle cx="453.5" cy="137.5" r="1.38" fill-opacity="0.87"/><circle cx="545.7" cy="114.1" r="1.27" fill-opacity="0.67"/><circle cx="550.7" cy="92.8" r="1.16" fill-opacity="0.85"/><circle cx="517.6" cy="136.4" r="1.42" fill-opacity="0.79"/><circle cx="548.4" cy="82.4" r="1.28" fill-opacity="0.66"/><circle cx="485.0" cy="138.8" r="1.42" fill-opacity="0.72"/><circle cx="546.5" cy="107.2" r="1.18" fill-opacity="0.95"/><circle cx="510.4" cy="124.9" r="1.35" fill-opacity="0.96"/><circle cx="477.2" cy="141.7" r="1.12" fill-opacity="0.61"/><circle cx="511.6" cy="141.8" r="1.23" fill-opacity="0.79"/><circle cx="415.6" cy="144.4" r="1.36" fill-opacity="0.77"/><circle cx="544.5" cy="19.2" r="1.38" fill-opacity="0.96"/><circle cx="551.2" cy="104.8" r="1.34" fill-opacity="0.83"/><circle cx="520.8" cy="131.5" r="1.39" fill-opacity="0.86"/><circle cx="543.5" cy="5.1" r="1.12" fill-opacity="0.85"/><circle cx="516.6" cy="127.1" r="1.13" fill-opacity="0.90"/><circle cx="540.9" cy="116.4" r="1.39" fill-opacity="0.79"/><circle cx="524.4" cy="133.7" r="1.32" fill-opacity="0.99"/><circle cx="483.6" cy="142.3" r="1.44" fill-opacity="0.85"/><circle cx="408.4" cy="131.9" r="1.26" fill-opacity="0.90"/><circle cx="529.6" cy="120.6" r="1.23" fill-opacity="0.93"/><circle cx="515.5" cy="143.4" r="1.12" fill-opacity="0.66"/><circle cx="519.8" cy="142.7" r="1.11" fill-opacity="0.93"/><circle cx="536.1" cy="120.8" r="1.22" fill-opacity="0.79"/><circle cx="544.9" cy="-0.7" r="1.20" fill-opacity="0.86"/><circle cx="546.7" cy="4.3" r="1.42" fill-opacity="0.71"/><circle cx="414.6" cy="140.8" r="1.31" fill-opacity="0.60"/><circle cx="419.6" cy="143.3" r="1.33" fill-opacity="0.69"/><circle cx="423.1" cy="135.6" r="1.41" fill-opacity="0.77"/><circle cx="548.8" cy="0.6" r="1.30" fill-opacity="0.99"/><circle cx="550.6" cy="18.3" r="1.23" fill-opacity="0.80"/><circle cx="488.4" cy="144.1" r="1.37" fill-opacity="0.87"/><circle cx="410.6" cy="140.7" r="1.33" fill-opacity="0.89"/><circle cx="413.8" cy="137.3" r="1.40" fill-opacity="0.95"/><circle cx="412.6" cy="143.1" r="1.31" fill-opacity="0.92"/><circle cx="540.3" cy="122.4" r="1.28" fill-opacity="0.93"/><circle cx="540.9" cy="-2.2" r="1.33" fill-opacity="0.61"/><circle cx="521.2" cy="126.0" r="1.35" fill-opacity="0.97"/><circle cx="474.3" cy="127.3" r="1.36" fill-opacity="0.89"/><circle cx="463.5" cy="141.7" r="1.45" fill-opacity="0.75"/><circle cx="546.9" cy="92.5" r="1.23" fill-opacity="0.72"/><circle cx="446.6" cy="141.8" r="1.36" fill-opacity="0.93"/><circle cx="450.6" cy="143.3" r="1.22" fill-opacity="0.82"/><circle cx="463.7" cy="137.4" r="1.40" fill-opacity="0.90"/><circle cx="523.2" cy="137.2" r="1.23" fill-opacity="0.67"/><circle cx="508.3" cy="141.5" r="1.31" fill-opacity="0.86"/><circle cx="518.8" cy="139.2" r="1.31" fill-opacity="0.81"/><circle cx="535.7" cy="124.9" r="1.13" fill-opacity="0.77"/><circle cx="524.7" cy="126.0" r="1.13" fill-opacity="0.85"/><circle cx="551.1" cy="8.2" r="1.41" fill-opacity="0.74"/><circle cx="544.5" cy="111.0" r="1.43" fill-opacity="0.78"/><circle cx="549.8" cy="109.0" r="1.37" fill-opacity="0.94"/><circle cx="548.4" cy="89.3" r="1.21" fill-opacity="0.62"/><circle cx="549.6" cy="13.4" r="1.16" fill-opacity="0.96"/><circle cx="540.0" cy="109.5" r="1.37" fill-opacity="0.70"/><circle cx="530.8" cy="127.3" r="1.27" fill-opacity="0.63"/><circle cx="543.8" cy="96.3" r="1.13" fill-opacity="0.77"/><circle cx="451.1" cy="135.5" r="1.18" fill-opacity="0.68"/><circle cx="405.0" cy="142.8" r="1.23" fill-opacity="0.68"/><circle cx="523.5" cy="142.9" r="1.44" fill-opacity="0.76"/><circle cx="531.4" cy="123.9" r="1.26" fill-opacity="0.93"/><circle cx="526.9" cy="130.9" r="1.35" fill-opacity="0.92"/><circle cx="432.0" cy="144.2" r="1.25" fill-opacity="0.81"/><circle cx="548.8" cy="115.1" r="1.18" fill-opacity="0.60"/><circle cx="523.0" cy="128.9" r="1.14" fill-opacity="0.73"/><circle cx="473.3" cy="143.1" r="1.17" fill-opacity="0.63"/><circle cx="542.7" cy="119.0" r="1.19" fill-opacity="0.78"/><circle cx="548.3" cy="120.7" r="1.19" fill-opacity="0.99"/><circle cx="546.2" cy="117.8" r="1.16" fill-opacity="0.88"/><circle cx="550.9" cy="112.3" r="1.36" fill-opacity="0.88"/><circle cx="526.9" cy="139.9" r="1.16" fill-opacity="0.61"/><circle cx="544.2" cy="10.8" r="1.20" fill-opacity="0.90"/><circle cx="532.9" cy="121.1" r="1.31" fill-opacity="0.97"/><circle cx="520.8" cy="134.9" r="1.40" fill-opacity="0.75"/><circle cx="534.4" cy="130.4" r="1.35" fill-opacity="0.68"/><circle cx="546.3" cy="13.8" r="1.27" fill-opacity="0.83"/><circle cx="540.7" cy="125.8" r="1.17" fill-opacity="0.70"/><circle cx="540.4" cy="131.1" r="1.26" fill-opacity="0.61"/><circle cx="550.8" cy="97.9" r="1.35" fill-opacity="0.64"/><circle cx="510.9" cy="136.6" r="1.32" fill-opacity="0.82"/><circle cx="544.6" cy="122.8" r="1.26" fill-opacity="0.93"/><circle cx="528.0" cy="144.0" r="1.38" fill-opacity="0.95"/><circle cx="479.5" cy="143.9" r="1.44" fill-opacity="0.78"/><circle cx="482.0" cy="139.6" r="1.15" fill-opacity="0.69"/><circle cx="529.6" cy="117.0" r="1.12" fill-opacity="0.86"/><circle cx="527.7" cy="135.8" r="1.30" fill-opacity="0.96"/><circle cx="543.9" cy="126.1" r="1.11" fill-opacity="0.91"/><circle cx="547.9" cy="111.6" r="1.21" fill-opacity="0.75"/><circle cx="530.4" cy="140.6" r="1.29" fill-opacity="0.84"/><circle cx="531.4" cy="133.4" r="1.14" fill-opacity="0.69"/><circle cx="545.1" cy="129.3" r="1.21" fill-opacity="0.78"/><circle cx="546.6" cy="7.7" r="1.26" fill-opacity="0.74"/><circle cx="549.9" cy="4.0" r="1.36" fill-opacity="0.85"/><circle cx="530.8" cy="137.5" r="1.33" fill-opacity="0.81"/><circle cx="538.1" cy="127.9" r="1.40" fill-opacity="0.90"/><circle cx="537.6" cy="132.7" r="1.38" fill-opacity="0.82"/><circle cx="534.4" cy="140.7" r="1.18" fill-opacity="0.82"/><circle cx="542.3" cy="134.4" r="1.17" fill-opacity="0.94"/><circle cx="532.2" cy="143.2" r="1.27" fill-opacity="0.64"/><circle cx="534.2" cy="135.3" r="1.27" fill-opacity="0.78"/><circle cx="548.9" cy="124.4" r="1.19" fill-opacity="0.78"/><circle cx="548.6" cy="128.7" r="1.38" fill-opacity="0.85"/><circle cx="548.1" cy="133.0" r="1.37" fill-opacity="0.66"/><circle cx="546.6" cy="136.3" r="1.27" fill-opacity="0.75"/><circle cx="539.8" cy="137.6" r="1.16" fill-opacity="0.86"/><circle cx="535.6" cy="143.8" r="1.27" fill-opacity="0.77"/><circle cx="550.7" cy="118.0" r="1.19" fill-opacity="0.96"/><circle cx="543.6" cy="137.5" r="1.34" fill-opacity="0.64"/><circle cx="539.3" cy="140.9" r="1.27" fill-opacity="0.95"/><circle cx="538.8" cy="144.5" r="1.41" fill-opacity="0.81"/><circle cx="536.4" cy="137.7" r="1.25" fill-opacity="0.73"/><circle cx="549.5" cy="140.6" r="1.22" fill-opacity="0.74"/><circle cx="544.1" cy="143.1" r="1.32" fill-opacity="0.99"/><circle cx="551.2" cy="126.9" r="1.11" fill-opacity="0.95"/><circle cx="545.8" cy="140.4" r="1.41" fill-opacity="0.84"/><circle cx="549.1" cy="143.8" r="1.44" fill-opacity="0.66"/><circle cx="551.2" cy="131.6" r="1.42" fill-opacity="0.64"/><circle cx="551.3" cy="135.6" r="1.17" fill-opacity="0.75"/></g>
</g>
<text x="451.2" y="17.6" font-size="14.4" font-weight="bold" fill="#fff" textLength="56" lengthAdjust="spacingAndGlyphs">Micelles</text>
<text x="461.6" y="125.5" font-size="10.3" font-weight="bold" fill="#fff" textLength="39.2" lengthAdjust="spacingAndGlyphs">100 nm</text>
<rect x="470.4" y="128.8" width="17.4" height="2.4" fill="#fff"/>
<text x="9" y="177.9" font-size="23" font-weight="bold">D</text>
<clipPath id="dc0"><rect x="34.0" y="168.3" width="152.80" height="152.30"/></clipPath>
<g clip-path="url(#dc0)"><rect x="34.0" y="168.3" width="152.80" height="152.30" filter="url(#nz0)"/>
<g filter="url(#bl2)">
<ellipse cx="107.7" cy="233.7" rx="58.2" ry="50.2" fill="none" stroke="#1e1e1e" stroke-width="3.0" stroke-opacity="0.92"/><ellipse cx="107.7" cy="233.7" rx="55.800000000000004" ry="47.800000000000004" fill="none" stroke="#b8b8b8" stroke-width="1.1" stroke-opacity="0.4"/><ellipse cx="107.7" cy="233.7" rx="54.300000000000004" ry="46.300000000000004" fill="none" stroke="#2a2a2a" stroke-width="1.3" stroke-opacity="0.35"/>
<ellipse cx="25.5" cy="355.6" rx="63.5" ry="63.5" fill="none" stroke="#1e1e1e" stroke-width="2.5" stroke-opacity="0.6"/><ellipse cx="25.5" cy="355.6" rx="61.1" ry="61.1" fill="none" stroke="#b8b8b8" stroke-width="1.1" stroke-opacity="0.4"/><ellipse cx="25.5" cy="355.6" rx="59.6" ry="59.6" fill="none" stroke="#2a2a2a" stroke-width="1.3" stroke-opacity="0.35"/>
<ellipse cx="215" cy="140" rx="70" ry="70" fill="none" stroke="#1e1e1e" stroke-width="2.4" stroke-opacity="0.55"/><ellipse cx="215" cy="140" rx="67.6" ry="67.6" fill="none" stroke="#b8b8b8" stroke-width="1.1" stroke-opacity="0.4"/><ellipse cx="215" cy="140" rx="66.1" ry="66.1" fill="none" stroke="#2a2a2a" stroke-width="1.3" stroke-opacity="0.35"/>
<ellipse cx="128.4" cy="222.1" rx="8" ry="7" fill="#2e2e2e" fill-opacity="0.55"/><ellipse cx="128.4" cy="222.1" rx="7.2" ry="6.2" fill="none" stroke="#1a1a1a" stroke-width="1.4" stroke-opacity="0.6"/>
</g>
<rect x="34.0" y="168.3" width="152.80" height="152.30" filter="url(#nzo0)" opacity="0.35"/>
<g filter="url(#bl)"><line x1="107" y1="216.8" x2="111.57" y2="218.17" stroke="#fff" stroke-width="2.9" stroke-linecap="round"/><polygon points="117.7,220 110.45,221.90 112.69,214.43" fill="#fff"/></g>
</g>
<text x="41.1" y="183.9" font-size="15" font-weight="bold" fill="#fff" textLength="141.8" lengthAdjust="spacingAndGlyphs">A MIL with 1 Micelle</text>
<clipPath id="dc1"><rect x="208.5" y="168.3" width="153.50" height="152.30"/></clipPath>
<g clip-path="url(#dc1)"><rect x="208.5" y="168.3" width="153.50" height="152.30" filter="url(#nz1)"/>
<g filter="url(#bl2)">
<ellipse cx="299.6" cy="216.2" rx="35.4" ry="31.9" fill="none" stroke="#1e1e1e" stroke-width="2.7" stroke-opacity="0.9"/><ellipse cx="299.6" cy="216.2" rx="33.0" ry="29.5" fill="none" stroke="#b8b8b8" stroke-width="1.1" stroke-opacity="0.4"/><ellipse cx="299.6" cy="216.2" rx="31.5" ry="28.0" fill="none" stroke="#2a2a2a" stroke-width="1.3" stroke-opacity="0.35"/>
<ellipse cx="277.4" cy="324.6" rx="47.6" ry="53.4" fill="none" stroke="#1e1e1e" stroke-width="3.2" stroke-opacity="0.9"/><ellipse cx="277.4" cy="324.6" rx="45.2" ry="51.0" fill="none" stroke="#b8b8b8" stroke-width="1.1" stroke-opacity="0.4"/><ellipse cx="277.4" cy="324.6" rx="43.7" ry="49.5" fill="none" stroke="#2a2a2a" stroke-width="1.3" stroke-opacity="0.35"/>
<ellipse cx="366.1" cy="278.4" rx="33.7" ry="38.0" fill="none" stroke="#1e1e1e" stroke-width="3.0" stroke-opacity="0.9"/><ellipse cx="366.1" cy="278.4" rx="31.300000000000004" ry="35.6" fill="none" stroke="#b8b8b8" stroke-width="1.1" stroke-opacity="0.4"/><ellipse cx="366.1" cy="278.4" rx="29.800000000000004" ry="34.1" fill="none" stroke="#2a2a2a" stroke-width="1.3" stroke-opacity="0.35"/>
<ellipse cx="239.8" cy="193.3" rx="4.3" ry="4.3" fill="#2e2e2e" fill-opacity="0.45"/><ellipse cx="239.8" cy="193.3" rx="3.5" ry="3.5" fill="none" stroke="#1a1a1a" stroke-width="1.4" stroke-opacity="0.5"/>
<ellipse cx="295" cy="199.1" rx="3.4" ry="3.4" fill="#2e2e2e" fill-opacity="0.5"/><ellipse cx="295" cy="199.1" rx="2.5999999999999996" ry="2.5999999999999996" fill="none" stroke="#1a1a1a" stroke-width="1.4" stroke-opacity="0.45"/>
<ellipse cx="315.8" cy="203.3" rx="6" ry="6" fill="#2e2e2e" fill-opacity="0.45"/><ellipse cx="315.8" cy="203.3" rx="5.2" ry="5.2" fill="none" stroke="#1a1a1a" stroke-width="1.4" stroke-opacity="0.75"/>
<ellipse cx="357.8" cy="206" rx="4.6" ry="4.6" fill="#2e2e2e" fill-opacity="0.5"/><ellipse cx="357.8" cy="206" rx="3.8" ry="3.8" fill="none" stroke="#1a1a1a" stroke-width="1.4" stroke-opacity="0.6"/>
</g>
<rect x="208.5" y="168.3" width="153.50" height="152.30" filter="url(#nzo1)" opacity="0.35"/>
<g filter="url(#bl)"><line x1="225.1" y1="202" x2="229.93" y2="199.47" stroke="#fff" stroke-width="2.9" stroke-linecap="round"/><polygon points="235.6,196.5 231.74,202.92 228.12,196.01" fill="#fff"/><line x1="276.1" y1="197.8" x2="283.83" y2="198.51" stroke="#fff" stroke-width="2.9" stroke-linecap="round"/><polygon points="290.2,199.1 283.47,202.40 284.19,194.63" fill="#fff"/><line x1="300.6" y1="218" x2="307.19" y2="212.78" stroke="#fff" stroke-width="2.9" stroke-linecap="round"/><polygon points="312.2,208.8 309.61,215.83 304.76,209.72" fill="#fff"/><line x1="336.2" y1="208.2" x2="345.90" y2="207.84" stroke="#fff" stroke-width="2.9" stroke-linecap="round"/><polygon points="352.3,207.6 346.05,211.74 345.76,203.94" fill="#fff"/></g>
</g>
<text x="212.4" y="183.9" font-size="15" font-weight="bold" fill="#fff" textLength="146.0" lengthAdjust="spacingAndGlyphs">A MIL with 2 Micelles</text>
<clipPath id="dc2"><rect x="391.0" y="168.3" width="151.30" height="152.30"/></clipPath>
<g clip-path="url(#dc2)"><rect x="391.0" y="168.3" width="151.30" height="152.30" filter="url(#nz2)"/>
<g filter="url(#bl2)">
<ellipse cx="464.6" cy="236.5" rx="50.6" ry="50.6" fill="none" stroke="#1e1e1e" stroke-width="2.7" stroke-opacity="0.9"/><ellipse cx="464.6" cy="236.5" rx="48.2" ry="48.2" fill="none" stroke="#b8b8b8" stroke-width="1.1" stroke-opacity="0.4"/><ellipse cx="464.6" cy="236.5" rx="46.7" ry="46.7" fill="none" stroke="#2a2a2a" stroke-width="1.3" stroke-opacity="0.35"/>
<ellipse cx="331.2" cy="235.1" rx="71.3" ry="71.3" fill="none" stroke="#1e1e1e" stroke-width="2.4" stroke-opacity="0.6"/><ellipse cx="331.2" cy="235.1" rx="68.89999999999999" ry="68.89999999999999" fill="none" stroke="#b8b8b8" stroke-width="1.1" stroke-opacity="0.4"/><ellipse cx="331.2" cy="235.1" rx="67.39999999999999" ry="67.39999999999999" fill="none" stroke="#2a2a2a" stroke-width="1.3" stroke-opacity="0.35"/>
<path d="M391,171.5 Q425,168 460,171" fill="none" stroke="#1e1e1e" stroke-width="2.4" stroke-opacity="0.7"/>
<path d="M502,184 Q520,193 545,196.2" fill="none" stroke="#1e1e1e" stroke-width="3.2" stroke-opacity="0.8"/>
<ellipse cx="444.3" cy="223.4" rx="3.2" ry="3.2" fill="#2e2e2e" fill-opacity="0.3"/><ellipse cx="444.3" cy="223.4" rx="2.4000000000000004" ry="2.4000000000000004" fill="none" stroke="#1a1a1a" stroke-width="1.4" stroke-opacity="0.3"/>
<ellipse cx="458" cy="251.8" rx="8.3" ry="8.2" fill="#2e2e2e" fill-opacity="0.62"/><ellipse cx="458" cy="251.8" rx="7.500000000000001" ry="7.3999999999999995" fill="none" stroke="#1a1a1a" stroke-width="1.4" stroke-opacity="0.6"/>
<ellipse cx="495.6" cy="240.8" rx="12" ry="11" fill="#2e2e2e" fill-opacity="0.6"/><ellipse cx="495.6" cy="240.8" rx="11.2" ry="10.2" fill="none" stroke="#1a1a1a" stroke-width="1.4" stroke-opacity="0.6"/>
</g>
<rect x="391.0" y="168.3" width="151.30" height="152.30" filter="url(#nzo2)" opacity="0.35"/>
<g filter="url(#bl)"><line x1="431.4" y1="213.3" x2="437.75" y2="216.69" stroke="#fff" stroke-width="2.9" stroke-linecap="round"/><polygon points="443.4,219.7 435.92,220.13 439.59,213.25" fill="#fff"/><line x1="437.9" y1="242.6" x2="442.62" y2="245.64" stroke="#fff" stroke-width="2.9" stroke-linecap="round"/><polygon points="448,249.1 440.51,248.92 444.73,242.36" fill="#fff"/><line x1="478.2" y1="222.4" x2="482.87" y2="227.07" stroke="#fff" stroke-width="2.9" stroke-linecap="round"/><polygon points="487.4,231.6 480.12,229.83 485.63,224.32" fill="#fff"/></g>
</g>
<text x="394.4" y="183.9" font-size="15" font-weight="bold" fill="#fff" textLength="145.4" lengthAdjust="spacingAndGlyphs">A MIL with 3 Micelles</text>
<text x="89.8" y="303.3" font-size="10.6" font-weight="bold" fill="#fff" textLength="31.9" lengthAdjust="spacingAndGlyphs">50 nm</text>
<rect x="82.1" y="307.5" width="45.5" height="3.6" fill="#fff"/>
<text x="271.2" y="304.9" font-size="10.6" font-weight="bold" fill="#fff" textLength="32.3" lengthAdjust="spacingAndGlyphs">50 nm</text>
<rect x="272.2" y="309.2" width="27.2" height="3.6" fill="#fff"/>
<text x="438.4" y="302.7" font-size="10.6" font-weight="bold" fill="#fff" textLength="32.2" lengthAdjust="spacingAndGlyphs">50 nm</text>
<rect x="436.3" y="306.9" width="37.8" height="3.6" fill="#fff"/>
</svg>
</body></html>
